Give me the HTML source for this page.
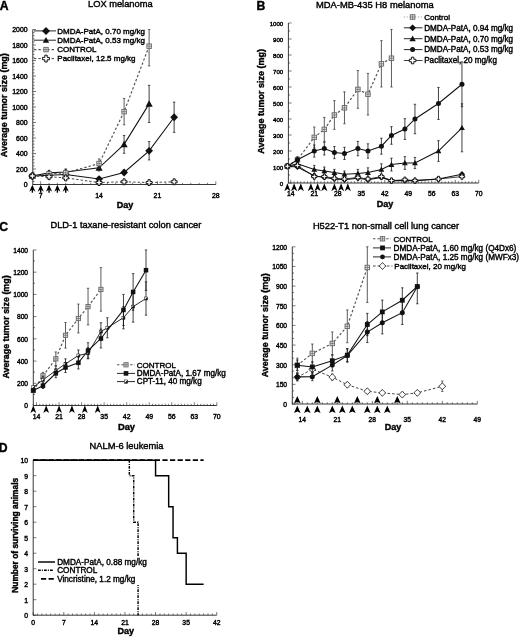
<!DOCTYPE html>
<html lang="en"><head><meta charset="utf-8"><title>DMDA-PatA antitumor activity in xenograft models</title>
<style>html,body{margin:0;padding:0;background:#fff;}body{width:520px;height:637px;overflow:hidden;}svg{display:block;font-family:'Liberation Sans', Arial, Helvetica, sans-serif;}text{stroke:#000;stroke-width:0.4px;}svg{filter:blur(0.3px);}</style>
</head><body>
<svg width="520" height="637" viewBox="0 0 520 637">
<rect width="520" height="637" fill="#fff"/>
<g id="panelA">
<text x="-0.2" y="9.6" font-size="12.2" font-weight="bold" text-anchor="start" fill="#000">A</text>
<text x="120.3" y="7.2" font-size="9.3" text-anchor="middle" fill="#000">LOX melanoma</text>
<line x1="32.8" y1="184.5" x2="215.84" y2="184.5" stroke="#222" stroke-width="0.9"/>
<line x1="32.8" y1="184.9" x2="32.8" y2="29.5" stroke="#222" stroke-width="0.9"/>
<line x1="40.7" y1="184.5" x2="40.7" y2="181.3" stroke="#222" stroke-width="0.6"/>
<line x1="49.04" y1="184.5" x2="49.04" y2="182.8" stroke="#222" stroke-width="0.6"/>
<line x1="57.38" y1="184.5" x2="57.38" y2="182.8" stroke="#222" stroke-width="0.6"/>
<line x1="65.72" y1="184.5" x2="65.72" y2="182.8" stroke="#222" stroke-width="0.6"/>
<line x1="74.06" y1="184.5" x2="74.06" y2="182.8" stroke="#222" stroke-width="0.6"/>
<line x1="82.4" y1="184.5" x2="82.4" y2="182.8" stroke="#222" stroke-width="0.6"/>
<line x1="90.74" y1="184.5" x2="90.74" y2="182.8" stroke="#222" stroke-width="0.6"/>
<line x1="99.08" y1="184.5" x2="99.08" y2="181.3" stroke="#222" stroke-width="0.6"/>
<line x1="107.42" y1="184.5" x2="107.42" y2="182.8" stroke="#222" stroke-width="0.6"/>
<line x1="115.76" y1="184.5" x2="115.76" y2="182.8" stroke="#222" stroke-width="0.6"/>
<line x1="124.1" y1="184.5" x2="124.1" y2="182.8" stroke="#222" stroke-width="0.6"/>
<line x1="132.44" y1="184.5" x2="132.44" y2="182.8" stroke="#222" stroke-width="0.6"/>
<line x1="140.78" y1="184.5" x2="140.78" y2="182.8" stroke="#222" stroke-width="0.6"/>
<line x1="149.12" y1="184.5" x2="149.12" y2="182.8" stroke="#222" stroke-width="0.6"/>
<line x1="157.46" y1="184.5" x2="157.46" y2="181.3" stroke="#222" stroke-width="0.6"/>
<line x1="165.8" y1="184.5" x2="165.8" y2="182.8" stroke="#222" stroke-width="0.6"/>
<line x1="174.14" y1="184.5" x2="174.14" y2="182.8" stroke="#222" stroke-width="0.6"/>
<line x1="182.48" y1="184.5" x2="182.48" y2="182.8" stroke="#222" stroke-width="0.6"/>
<line x1="190.82" y1="184.5" x2="190.82" y2="182.8" stroke="#222" stroke-width="0.6"/>
<line x1="199.16" y1="184.5" x2="199.16" y2="182.8" stroke="#222" stroke-width="0.6"/>
<line x1="207.5" y1="184.5" x2="207.5" y2="182.8" stroke="#222" stroke-width="0.6"/>
<line x1="215.84" y1="184.5" x2="215.84" y2="181.3" stroke="#222" stroke-width="0.6"/>
<line x1="32.8" y1="184.5" x2="36" y2="184.5" stroke="#222" stroke-width="0.6"/>
<line x1="32.8" y1="181.4" x2="34.5" y2="181.4" stroke="#222" stroke-width="0.6"/>
<line x1="32.8" y1="178.3" x2="34.5" y2="178.3" stroke="#222" stroke-width="0.6"/>
<line x1="32.8" y1="175.2" x2="34.5" y2="175.2" stroke="#222" stroke-width="0.6"/>
<line x1="32.8" y1="172.1" x2="34.5" y2="172.1" stroke="#222" stroke-width="0.6"/>
<line x1="32.8" y1="169" x2="36" y2="169" stroke="#222" stroke-width="0.6"/>
<line x1="32.8" y1="165.9" x2="34.5" y2="165.9" stroke="#222" stroke-width="0.6"/>
<line x1="32.8" y1="162.8" x2="34.5" y2="162.8" stroke="#222" stroke-width="0.6"/>
<line x1="32.8" y1="159.7" x2="34.5" y2="159.7" stroke="#222" stroke-width="0.6"/>
<line x1="32.8" y1="156.6" x2="34.5" y2="156.6" stroke="#222" stroke-width="0.6"/>
<line x1="32.8" y1="153.5" x2="36" y2="153.5" stroke="#222" stroke-width="0.6"/>
<line x1="32.8" y1="150.4" x2="34.5" y2="150.4" stroke="#222" stroke-width="0.6"/>
<line x1="32.8" y1="147.3" x2="34.5" y2="147.3" stroke="#222" stroke-width="0.6"/>
<line x1="32.8" y1="144.2" x2="34.5" y2="144.2" stroke="#222" stroke-width="0.6"/>
<line x1="32.8" y1="141.1" x2="34.5" y2="141.1" stroke="#222" stroke-width="0.6"/>
<line x1="32.8" y1="138" x2="36" y2="138" stroke="#222" stroke-width="0.6"/>
<line x1="32.8" y1="134.9" x2="34.5" y2="134.9" stroke="#222" stroke-width="0.6"/>
<line x1="32.8" y1="131.8" x2="34.5" y2="131.8" stroke="#222" stroke-width="0.6"/>
<line x1="32.8" y1="128.7" x2="34.5" y2="128.7" stroke="#222" stroke-width="0.6"/>
<line x1="32.8" y1="125.6" x2="34.5" y2="125.6" stroke="#222" stroke-width="0.6"/>
<line x1="32.8" y1="122.5" x2="36" y2="122.5" stroke="#222" stroke-width="0.6"/>
<line x1="32.8" y1="119.4" x2="34.5" y2="119.4" stroke="#222" stroke-width="0.6"/>
<line x1="32.8" y1="116.3" x2="34.5" y2="116.3" stroke="#222" stroke-width="0.6"/>
<line x1="32.8" y1="113.2" x2="34.5" y2="113.2" stroke="#222" stroke-width="0.6"/>
<line x1="32.8" y1="110.1" x2="34.5" y2="110.1" stroke="#222" stroke-width="0.6"/>
<line x1="32.8" y1="107" x2="36" y2="107" stroke="#222" stroke-width="0.6"/>
<line x1="32.8" y1="103.9" x2="34.5" y2="103.9" stroke="#222" stroke-width="0.6"/>
<line x1="32.8" y1="100.8" x2="34.5" y2="100.8" stroke="#222" stroke-width="0.6"/>
<line x1="32.8" y1="97.7" x2="34.5" y2="97.7" stroke="#222" stroke-width="0.6"/>
<line x1="32.8" y1="94.6" x2="34.5" y2="94.6" stroke="#222" stroke-width="0.6"/>
<line x1="32.8" y1="91.5" x2="36" y2="91.5" stroke="#222" stroke-width="0.6"/>
<line x1="32.8" y1="88.4" x2="34.5" y2="88.4" stroke="#222" stroke-width="0.6"/>
<line x1="32.8" y1="85.3" x2="34.5" y2="85.3" stroke="#222" stroke-width="0.6"/>
<line x1="32.8" y1="82.2" x2="34.5" y2="82.2" stroke="#222" stroke-width="0.6"/>
<line x1="32.8" y1="79.1" x2="34.5" y2="79.1" stroke="#222" stroke-width="0.6"/>
<line x1="32.8" y1="76" x2="36" y2="76" stroke="#222" stroke-width="0.6"/>
<line x1="32.8" y1="72.9" x2="34.5" y2="72.9" stroke="#222" stroke-width="0.6"/>
<line x1="32.8" y1="69.8" x2="34.5" y2="69.8" stroke="#222" stroke-width="0.6"/>
<line x1="32.8" y1="66.7" x2="34.5" y2="66.7" stroke="#222" stroke-width="0.6"/>
<line x1="32.8" y1="63.6" x2="34.5" y2="63.6" stroke="#222" stroke-width="0.6"/>
<line x1="32.8" y1="60.5" x2="36" y2="60.5" stroke="#222" stroke-width="0.6"/>
<line x1="32.8" y1="57.4" x2="34.5" y2="57.4" stroke="#222" stroke-width="0.6"/>
<line x1="32.8" y1="54.3" x2="34.5" y2="54.3" stroke="#222" stroke-width="0.6"/>
<line x1="32.8" y1="51.2" x2="34.5" y2="51.2" stroke="#222" stroke-width="0.6"/>
<line x1="32.8" y1="48.1" x2="34.5" y2="48.1" stroke="#222" stroke-width="0.6"/>
<line x1="32.8" y1="45" x2="36" y2="45" stroke="#222" stroke-width="0.6"/>
<line x1="32.8" y1="41.9" x2="34.5" y2="41.9" stroke="#222" stroke-width="0.6"/>
<line x1="32.8" y1="38.8" x2="34.5" y2="38.8" stroke="#222" stroke-width="0.6"/>
<line x1="32.8" y1="35.7" x2="34.5" y2="35.7" stroke="#222" stroke-width="0.6"/>
<line x1="32.8" y1="32.6" x2="34.5" y2="32.6" stroke="#222" stroke-width="0.6"/>
<line x1="32.8" y1="29.5" x2="36" y2="29.5" stroke="#222" stroke-width="0.6"/>
<text x="40.7" y="197.8" font-size="6.9" text-anchor="middle" fill="#000" class="tk">7</text>
<text x="99.08" y="197.8" font-size="6.9" text-anchor="middle" fill="#000" class="tk">14</text>
<text x="157.46" y="197.8" font-size="6.9" text-anchor="middle" fill="#000" class="tk">21</text>
<text x="215.84" y="197.8" font-size="6.9" text-anchor="middle" fill="#000" class="tk">28</text>
<text x="27.6" y="187.43" font-size="6.9" text-anchor="end" fill="#000" class="tk">0</text>
<text x="27.6" y="171.93" font-size="6.9" text-anchor="end" fill="#000" class="tk">200</text>
<text x="27.6" y="156.43" font-size="6.9" text-anchor="end" fill="#000" class="tk">400</text>
<text x="27.6" y="140.93" font-size="6.9" text-anchor="end" fill="#000" class="tk">600</text>
<text x="27.6" y="125.43" font-size="6.9" text-anchor="end" fill="#000" class="tk">800</text>
<text x="27.6" y="109.93" font-size="6.9" text-anchor="end" fill="#000" class="tk">1000</text>
<text x="27.6" y="94.43" font-size="6.9" text-anchor="end" fill="#000" class="tk">1200</text>
<text x="27.6" y="78.93" font-size="6.9" text-anchor="end" fill="#000" class="tk">1400</text>
<text x="27.6" y="63.43" font-size="6.9" text-anchor="end" fill="#000" class="tk">1600</text>
<text x="27.6" y="47.93" font-size="6.9" text-anchor="end" fill="#000" class="tk">1800</text>
<text x="27.6" y="32.43" font-size="6.9" text-anchor="end" fill="#000" class="tk">2000</text>
<text x="7" y="105.2" font-size="8.95" font-weight="bold" text-anchor="middle" fill="#000" transform="rotate(-90 7 105.2)">Average tumor size (mg)</text>
<text x="125" y="208.2" font-size="9.0" font-weight="bold" text-anchor="middle" fill="#000">Day</text>
<line x1="49.04" y1="173.26" x2="49.04" y2="177.14" stroke="#111" stroke-width="0.8"/>
<line x1="47.84" y1="173.26" x2="50.24" y2="173.26" stroke="#111" stroke-width="0.7200000000000001"/>
<line x1="47.84" y1="177.14" x2="50.24" y2="177.14" stroke="#111" stroke-width="0.7200000000000001"/>
<line x1="65.72" y1="172.1" x2="65.72" y2="176.75" stroke="#111" stroke-width="0.8"/>
<line x1="64.52" y1="172.1" x2="66.92" y2="172.1" stroke="#111" stroke-width="0.7200000000000001"/>
<line x1="64.52" y1="176.75" x2="66.92" y2="176.75" stroke="#111" stroke-width="0.7200000000000001"/>
<line x1="99.08" y1="176.75" x2="99.08" y2="181.4" stroke="#111" stroke-width="0.8"/>
<line x1="97.88" y1="176.75" x2="100.28" y2="176.75" stroke="#111" stroke-width="0.7200000000000001"/>
<line x1="97.88" y1="181.4" x2="100.28" y2="181.4" stroke="#111" stroke-width="0.7200000000000001"/>
<line x1="124.1" y1="170.16" x2="124.1" y2="174.81" stroke="#111" stroke-width="0.8"/>
<line x1="122.9" y1="170.16" x2="125.3" y2="170.16" stroke="#111" stroke-width="0.7200000000000001"/>
<line x1="122.9" y1="174.81" x2="125.3" y2="174.81" stroke="#111" stroke-width="0.7200000000000001"/>
<line x1="149.12" y1="141.64" x2="149.12" y2="159.93" stroke="#111" stroke-width="0.8"/>
<line x1="147.92" y1="141.64" x2="150.32" y2="141.64" stroke="#111" stroke-width="0.7200000000000001"/>
<line x1="147.92" y1="159.93" x2="150.32" y2="159.93" stroke="#111" stroke-width="0.7200000000000001"/>
<line x1="174.14" y1="102.12" x2="174.14" y2="132.34" stroke="#111" stroke-width="0.8"/>
<line x1="172.94" y1="102.12" x2="175.34" y2="102.12" stroke="#111" stroke-width="0.7200000000000001"/>
<line x1="172.94" y1="132.34" x2="175.34" y2="132.34" stroke="#111" stroke-width="0.7200000000000001"/>
<polyline points="32.36,175.97 49.04,175.2 65.72,174.43 99.08,179.07 124.1,172.49 149.12,150.79 174.14,117.23" fill="none" stroke="#111" stroke-width="1.05" stroke-linejoin="miter"/>
<polygon points="32.36,172.07 36.26,175.97 32.36,179.88 28.46,175.97" fill="#111"/>
<polygon points="49.04,171.3 52.94,175.2 49.04,179.1 45.14,175.2" fill="#111"/>
<polygon points="65.72,170.53 69.62,174.43 65.72,178.33 61.82,174.43" fill="#111"/>
<polygon points="99.08,175.17 102.98,179.07 99.08,182.97 95.18,179.07" fill="#111"/>
<polygon points="124.1,168.59 128,172.49 124.1,176.39 120.2,172.49" fill="#111"/>
<polygon points="149.12,146.89 153.02,150.79 149.12,154.69 145.22,150.79" fill="#111"/>
<polygon points="174.14,113.33 178.04,117.23 174.14,121.13 170.24,117.23" fill="#111"/>
<line x1="49.04" y1="170.55" x2="49.04" y2="175.2" stroke="#111" stroke-width="0.8"/>
<line x1="47.84" y1="170.55" x2="50.24" y2="170.55" stroke="#111" stroke-width="0.7200000000000001"/>
<line x1="47.84" y1="175.2" x2="50.24" y2="175.2" stroke="#111" stroke-width="0.7200000000000001"/>
<line x1="65.72" y1="169" x2="65.72" y2="175.2" stroke="#111" stroke-width="0.8"/>
<line x1="64.52" y1="169" x2="66.92" y2="169" stroke="#111" stroke-width="0.7200000000000001"/>
<line x1="64.52" y1="175.2" x2="66.92" y2="175.2" stroke="#111" stroke-width="0.7200000000000001"/>
<line x1="99.08" y1="164.74" x2="99.08" y2="170.94" stroke="#111" stroke-width="0.8"/>
<line x1="97.88" y1="164.74" x2="100.28" y2="164.74" stroke="#111" stroke-width="0.7200000000000001"/>
<line x1="97.88" y1="170.94" x2="100.28" y2="170.94" stroke="#111" stroke-width="0.7200000000000001"/>
<line x1="124.1" y1="135.44" x2="124.1" y2="153.27" stroke="#111" stroke-width="0.8"/>
<line x1="122.9" y1="135.44" x2="125.3" y2="135.44" stroke="#111" stroke-width="0.7200000000000001"/>
<line x1="122.9" y1="153.27" x2="125.3" y2="153.27" stroke="#111" stroke-width="0.7200000000000001"/>
<line x1="149.12" y1="85.3" x2="149.12" y2="122.5" stroke="#111" stroke-width="0.8"/>
<line x1="147.92" y1="85.3" x2="150.32" y2="85.3" stroke="#111" stroke-width="0.7200000000000001"/>
<line x1="147.92" y1="122.5" x2="150.32" y2="122.5" stroke="#111" stroke-width="0.7200000000000001"/>
<polyline points="32.36,175.97 49.04,172.88 65.72,172.1 99.08,167.84 124.1,144.35 149.12,103.9" fill="none" stroke="#111" stroke-width="1.05" stroke-linejoin="miter"/>
<polygon points="32.36,172.38 35.96,178.85 28.76,178.85" fill="#111"/>
<polygon points="49.04,169.28 52.64,175.75 45.44,175.75" fill="#111"/>
<polygon points="65.72,168.5 69.32,174.98 62.12,174.98" fill="#111"/>
<polygon points="99.08,164.24 102.68,170.72 95.48,170.72" fill="#111"/>
<polygon points="124.1,140.75 127.7,147.23 120.5,147.23" fill="#111"/>
<polygon points="149.12,100.3 152.72,106.78 145.52,106.78" fill="#111"/>
<line x1="49.04" y1="171.32" x2="49.04" y2="175.97" stroke="#333" stroke-width="0.8"/>
<line x1="47.84" y1="171.32" x2="50.24" y2="171.32" stroke="#333" stroke-width="0.7200000000000001"/>
<line x1="47.84" y1="175.97" x2="50.24" y2="175.97" stroke="#333" stroke-width="0.7200000000000001"/>
<line x1="65.72" y1="169.39" x2="65.72" y2="176.36" stroke="#333" stroke-width="0.8"/>
<line x1="64.52" y1="169.39" x2="66.92" y2="169.39" stroke="#333" stroke-width="0.7200000000000001"/>
<line x1="64.52" y1="176.36" x2="66.92" y2="176.36" stroke="#333" stroke-width="0.7200000000000001"/>
<line x1="99.08" y1="158.93" x2="99.08" y2="168.22" stroke="#333" stroke-width="0.8"/>
<line x1="97.88" y1="158.93" x2="100.28" y2="158.93" stroke="#333" stroke-width="0.7200000000000001"/>
<line x1="97.88" y1="168.22" x2="100.28" y2="168.22" stroke="#333" stroke-width="0.7200000000000001"/>
<line x1="124.1" y1="98.47" x2="124.1" y2="124.83" stroke="#333" stroke-width="0.8"/>
<line x1="122.9" y1="98.47" x2="125.3" y2="98.47" stroke="#333" stroke-width="0.7200000000000001"/>
<line x1="122.9" y1="124.83" x2="125.3" y2="124.83" stroke="#333" stroke-width="0.7200000000000001"/>
<line x1="149.12" y1="29.5" x2="149.12" y2="65.92" stroke="#333" stroke-width="0.8"/>
<line x1="147.92" y1="29.5" x2="150.32" y2="29.5" stroke="#333" stroke-width="0.7200000000000001"/>
<line x1="147.92" y1="65.92" x2="150.32" y2="65.92" stroke="#333" stroke-width="0.7200000000000001"/>
<polyline points="32.36,175.97 49.04,173.65 65.72,172.88 99.08,163.57 124.1,111.65 149.12,46.16" fill="none" stroke="#555" stroke-width="1.2" stroke-dasharray="2.4 2" stroke-linejoin="miter"/>
<rect x="30.11" y="173.72" width="4.5" height="4.5" fill="#e4e4e4" stroke="#666" stroke-width="0.9"/>
<line x1="30.11" y1="175.97" x2="34.61" y2="175.97" stroke="#666" stroke-width="0.7"/>
<line x1="32.36" y1="173.72" x2="32.36" y2="178.22" stroke="#666" stroke-width="0.7"/>
<rect x="46.79" y="171.4" width="4.5" height="4.5" fill="#e4e4e4" stroke="#666" stroke-width="0.9"/>
<line x1="46.79" y1="173.65" x2="51.29" y2="173.65" stroke="#666" stroke-width="0.7"/>
<line x1="49.04" y1="171.4" x2="49.04" y2="175.9" stroke="#666" stroke-width="0.7"/>
<rect x="63.47" y="170.62" width="4.5" height="4.5" fill="#e4e4e4" stroke="#666" stroke-width="0.9"/>
<line x1="63.47" y1="172.88" x2="67.97" y2="172.88" stroke="#666" stroke-width="0.7"/>
<line x1="65.72" y1="170.62" x2="65.72" y2="175.12" stroke="#666" stroke-width="0.7"/>
<rect x="96.83" y="161.32" width="4.5" height="4.5" fill="#e4e4e4" stroke="#666" stroke-width="0.9"/>
<line x1="96.83" y1="163.57" x2="101.33" y2="163.57" stroke="#666" stroke-width="0.7"/>
<line x1="99.08" y1="161.32" x2="99.08" y2="165.82" stroke="#666" stroke-width="0.7"/>
<rect x="121.85" y="109.4" width="4.5" height="4.5" fill="#e4e4e4" stroke="#666" stroke-width="0.9"/>
<line x1="121.85" y1="111.65" x2="126.35" y2="111.65" stroke="#666" stroke-width="0.7"/>
<line x1="124.1" y1="109.4" x2="124.1" y2="113.9" stroke="#666" stroke-width="0.7"/>
<rect x="146.87" y="43.91" width="4.5" height="4.5" fill="#e4e4e4" stroke="#666" stroke-width="0.9"/>
<line x1="146.87" y1="46.16" x2="151.37" y2="46.16" stroke="#666" stroke-width="0.7"/>
<line x1="149.12" y1="43.91" x2="149.12" y2="48.41" stroke="#666" stroke-width="0.7"/>
<line x1="49.04" y1="174.81" x2="49.04" y2="178.69" stroke="#333" stroke-width="0.8"/>
<line x1="47.84" y1="174.81" x2="50.24" y2="174.81" stroke="#333" stroke-width="0.7200000000000001"/>
<line x1="47.84" y1="178.69" x2="50.24" y2="178.69" stroke="#333" stroke-width="0.7200000000000001"/>
<line x1="65.72" y1="175.59" x2="65.72" y2="180.24" stroke="#333" stroke-width="0.8"/>
<line x1="64.52" y1="175.59" x2="66.92" y2="175.59" stroke="#333" stroke-width="0.7200000000000001"/>
<line x1="64.52" y1="180.24" x2="66.92" y2="180.24" stroke="#333" stroke-width="0.7200000000000001"/>
<line x1="99.08" y1="181.4" x2="99.08" y2="183.72" stroke="#333" stroke-width="0.8"/>
<line x1="97.88" y1="181.4" x2="100.28" y2="181.4" stroke="#333" stroke-width="0.7200000000000001"/>
<line x1="97.88" y1="183.72" x2="100.28" y2="183.72" stroke="#333" stroke-width="0.7200000000000001"/>
<line x1="124.1" y1="181.01" x2="124.1" y2="182.56" stroke="#333" stroke-width="0.8"/>
<line x1="122.9" y1="181.01" x2="125.3" y2="181.01" stroke="#333" stroke-width="0.7200000000000001"/>
<line x1="122.9" y1="182.56" x2="125.3" y2="182.56" stroke="#333" stroke-width="0.7200000000000001"/>
<line x1="149.12" y1="181.79" x2="149.12" y2="183.34" stroke="#333" stroke-width="0.8"/>
<line x1="147.92" y1="181.79" x2="150.32" y2="181.79" stroke="#333" stroke-width="0.7200000000000001"/>
<line x1="147.92" y1="183.34" x2="150.32" y2="183.34" stroke="#333" stroke-width="0.7200000000000001"/>
<line x1="174.14" y1="181.01" x2="174.14" y2="182.56" stroke="#333" stroke-width="0.8"/>
<line x1="172.94" y1="181.01" x2="175.34" y2="181.01" stroke="#333" stroke-width="0.7200000000000001"/>
<line x1="172.94" y1="182.56" x2="175.34" y2="182.56" stroke="#333" stroke-width="0.7200000000000001"/>
<polyline points="32.36,175.97 49.04,176.75 65.72,177.91 99.08,182.56 124.1,181.79 149.12,182.56 174.14,181.79" fill="none" stroke="#333" stroke-width="0.9" stroke-dasharray="2.4 2" stroke-linejoin="miter"/>
<polygon points="31.31,173.03 33.41,173.03 33.41,174.92 35.31,174.92 35.31,177.03 33.41,177.03 33.41,178.92 31.31,178.92 31.31,177.03 29.41,177.03 29.41,174.92 31.31,174.92" fill="#fff" stroke="#111" stroke-width="1.0"/>
<polygon points="47.99,173.8 50.09,173.8 50.09,175.7 51.99,175.7 51.99,177.8 50.09,177.8 50.09,179.7 47.99,179.7 47.99,177.8 46.09,177.8 46.09,175.7 47.99,175.7" fill="#fff" stroke="#111" stroke-width="1.0"/>
<polygon points="64.67,174.96 66.77,174.96 66.77,176.86 68.67,176.86 68.67,178.96 66.77,178.96 66.77,180.86 64.67,180.86 64.67,178.96 62.77,178.96 62.77,176.86 64.67,176.86" fill="#fff" stroke="#111" stroke-width="1.0"/>
<polygon points="98.03,179.61 100.13,179.61 100.13,181.51 102.03,181.51 102.03,183.61 100.13,183.61 100.13,185.51 98.03,185.51 98.03,183.61 96.13,183.61 96.13,181.51 98.03,181.51" fill="#fff" stroke="#111" stroke-width="1.0"/>
<polygon points="123.05,178.84 125.15,178.84 125.15,180.74 127.05,180.74 127.05,182.84 125.15,182.84 125.15,184.74 123.05,184.74 123.05,182.84 121.15,182.84 121.15,180.74 123.05,180.74" fill="#fff" stroke="#111" stroke-width="1.0"/>
<polygon points="148.07,179.61 150.17,179.61 150.17,181.51 152.07,181.51 152.07,183.61 150.17,183.61 150.17,185.51 148.07,185.51 148.07,183.61 146.17,183.61 146.17,181.51 148.07,181.51" fill="#fff" stroke="#111" stroke-width="1.0"/>
<polygon points="173.09,178.84 175.19,178.84 175.19,180.74 177.09,180.74 177.09,182.84 175.19,182.84 175.19,184.74 173.09,184.74 173.09,182.84 171.19,182.84 171.19,180.74 173.09,180.74" fill="#fff" stroke="#111" stroke-width="1.0"/>
<polygon points="31.31,173.03 33.41,173.03 33.41,174.92 35.31,174.92 35.31,177.03 33.41,177.03 33.41,178.92 31.31,178.92 31.31,177.03 29.41,177.03 29.41,174.92 31.31,174.92" fill="#fff" stroke="#111" stroke-width="1.0"/>
<polygon points="32.36,184.8 35.46,191.8 32.36,189.6 29.26,191.8" fill="#000"/>
<line x1="32.36" y1="186.8" x2="32.36" y2="192.7" stroke="#000" stroke-width="1.4"/>
<polygon points="40.7,184.8 43.8,191.8 40.7,189.6 37.6,191.8" fill="#000"/>
<line x1="40.7" y1="186.8" x2="40.7" y2="192.7" stroke="#000" stroke-width="1.4"/>
<polygon points="49.04,184.8 52.14,191.8 49.04,189.6 45.94,191.8" fill="#000"/>
<line x1="49.04" y1="186.8" x2="49.04" y2="192.7" stroke="#000" stroke-width="1.4"/>
<polygon points="57.38,184.8 60.48,191.8 57.38,189.6 54.28,191.8" fill="#000"/>
<line x1="57.38" y1="186.8" x2="57.38" y2="192.7" stroke="#000" stroke-width="1.4"/>
<polygon points="65.72,184.8 68.82,191.8 65.72,189.6 62.62,191.8" fill="#000"/>
<line x1="65.72" y1="186.8" x2="65.72" y2="192.7" stroke="#000" stroke-width="1.4"/>
<line x1="34" y1="30.9" x2="56" y2="30.9" stroke="#111" stroke-width="0.9"/>
<polygon points="46,26.9 50,30.9 46,34.9 42,30.9" fill="#111"/>
<text x="57.3" y="33.7" font-size="8" text-anchor="start" fill="#000">DMDA-PatA, 0.70 mg/kg</text>
<line x1="34" y1="40.2" x2="56" y2="40.2" stroke="#111" stroke-width="0.9"/>
<polygon points="46,37 49.2,42.76 42.8,42.76" fill="#111"/>
<text x="57.3" y="43" font-size="8" text-anchor="start" fill="#000">DMDA-PatA, 0.53 mg/kg</text>
<line x1="34" y1="49.6" x2="56" y2="49.6" stroke="#555" stroke-width="1.1" stroke-dasharray="2.4 2"/>
<rect x="43.8" y="47.4" width="4.4" height="4.4" fill="#e4e4e4" stroke="#666" stroke-width="0.9"/>
<line x1="43.8" y1="49.6" x2="48.2" y2="49.6" stroke="#666" stroke-width="0.7"/>
<line x1="46" y1="47.4" x2="46" y2="51.8" stroke="#666" stroke-width="0.7"/>
<text x="57.3" y="52.4" font-size="8" text-anchor="start" fill="#000">CONTROL</text>
<line x1="34" y1="58.6" x2="56" y2="58.6" stroke="#333" stroke-width="0.9" stroke-dasharray="2.4 2"/>
<polygon points="44.8,55.2 47.2,55.2 47.2,57.4 49.4,57.4 49.4,59.8 47.2,59.8 47.2,62 44.8,62 44.8,59.8 42.6,59.8 42.6,57.4 44.8,57.4" fill="#fff" stroke="#111" stroke-width="1.0"/>
<text x="57.3" y="61.4" font-size="8" text-anchor="start" fill="#000">Paclitaxel, 12.5 mg/kg</text>
</g>
<g id="panelB">
<text x="256.6" y="9.7" font-size="12.2" font-weight="bold" text-anchor="start" fill="#000">B</text>
<text x="374.8" y="7.6" font-size="9.4" text-anchor="middle" fill="#000">MDA-MB-435 H8 melanoma</text>
<line x1="288.4" y1="183" x2="478.74" y2="183" stroke="#222" stroke-width="0.9"/>
<line x1="288.4" y1="183.4" x2="288.4" y2="23" stroke="#222" stroke-width="0.9"/>
<line x1="290.75" y1="183" x2="290.75" y2="179.8" stroke="#222" stroke-width="0.6"/>
<line x1="294.11" y1="183" x2="294.11" y2="181.3" stroke="#222" stroke-width="0.6"/>
<line x1="297.46" y1="183" x2="297.46" y2="181.3" stroke="#222" stroke-width="0.6"/>
<line x1="300.82" y1="183" x2="300.82" y2="181.3" stroke="#222" stroke-width="0.6"/>
<line x1="304.18" y1="183" x2="304.18" y2="181.3" stroke="#222" stroke-width="0.6"/>
<line x1="307.53" y1="183" x2="307.53" y2="181.3" stroke="#222" stroke-width="0.6"/>
<line x1="310.89" y1="183" x2="310.89" y2="181.3" stroke="#222" stroke-width="0.6"/>
<line x1="314.25" y1="183" x2="314.25" y2="179.8" stroke="#222" stroke-width="0.6"/>
<line x1="317.61" y1="183" x2="317.61" y2="181.3" stroke="#222" stroke-width="0.6"/>
<line x1="320.96" y1="183" x2="320.96" y2="181.3" stroke="#222" stroke-width="0.6"/>
<line x1="324.32" y1="183" x2="324.32" y2="181.3" stroke="#222" stroke-width="0.6"/>
<line x1="327.68" y1="183" x2="327.68" y2="181.3" stroke="#222" stroke-width="0.6"/>
<line x1="331.03" y1="183" x2="331.03" y2="181.3" stroke="#222" stroke-width="0.6"/>
<line x1="334.39" y1="183" x2="334.39" y2="181.3" stroke="#222" stroke-width="0.6"/>
<line x1="337.75" y1="183" x2="337.75" y2="179.8" stroke="#222" stroke-width="0.6"/>
<line x1="341.1" y1="183" x2="341.1" y2="181.3" stroke="#222" stroke-width="0.6"/>
<line x1="344.46" y1="183" x2="344.46" y2="181.3" stroke="#222" stroke-width="0.6"/>
<line x1="347.82" y1="183" x2="347.82" y2="181.3" stroke="#222" stroke-width="0.6"/>
<line x1="351.18" y1="183" x2="351.18" y2="181.3" stroke="#222" stroke-width="0.6"/>
<line x1="354.53" y1="183" x2="354.53" y2="181.3" stroke="#222" stroke-width="0.6"/>
<line x1="357.89" y1="183" x2="357.89" y2="181.3" stroke="#222" stroke-width="0.6"/>
<line x1="361.25" y1="183" x2="361.25" y2="179.8" stroke="#222" stroke-width="0.6"/>
<line x1="364.6" y1="183" x2="364.6" y2="181.3" stroke="#222" stroke-width="0.6"/>
<line x1="367.96" y1="183" x2="367.96" y2="181.3" stroke="#222" stroke-width="0.6"/>
<line x1="371.32" y1="183" x2="371.32" y2="181.3" stroke="#222" stroke-width="0.6"/>
<line x1="374.67" y1="183" x2="374.67" y2="181.3" stroke="#222" stroke-width="0.6"/>
<line x1="378.03" y1="183" x2="378.03" y2="181.3" stroke="#222" stroke-width="0.6"/>
<line x1="381.39" y1="183" x2="381.39" y2="181.3" stroke="#222" stroke-width="0.6"/>
<line x1="384.75" y1="183" x2="384.75" y2="179.8" stroke="#222" stroke-width="0.6"/>
<line x1="388.1" y1="183" x2="388.1" y2="181.3" stroke="#222" stroke-width="0.6"/>
<line x1="391.46" y1="183" x2="391.46" y2="181.3" stroke="#222" stroke-width="0.6"/>
<line x1="394.82" y1="183" x2="394.82" y2="181.3" stroke="#222" stroke-width="0.6"/>
<line x1="398.17" y1="183" x2="398.17" y2="181.3" stroke="#222" stroke-width="0.6"/>
<line x1="401.53" y1="183" x2="401.53" y2="181.3" stroke="#222" stroke-width="0.6"/>
<line x1="404.89" y1="183" x2="404.89" y2="181.3" stroke="#222" stroke-width="0.6"/>
<line x1="408.24" y1="183" x2="408.24" y2="179.8" stroke="#222" stroke-width="0.6"/>
<line x1="411.6" y1="183" x2="411.6" y2="181.3" stroke="#222" stroke-width="0.6"/>
<line x1="414.96" y1="183" x2="414.96" y2="181.3" stroke="#222" stroke-width="0.6"/>
<line x1="418.32" y1="183" x2="418.32" y2="181.3" stroke="#222" stroke-width="0.6"/>
<line x1="421.67" y1="183" x2="421.67" y2="181.3" stroke="#222" stroke-width="0.6"/>
<line x1="425.03" y1="183" x2="425.03" y2="181.3" stroke="#222" stroke-width="0.6"/>
<line x1="428.39" y1="183" x2="428.39" y2="181.3" stroke="#222" stroke-width="0.6"/>
<line x1="431.74" y1="183" x2="431.74" y2="179.8" stroke="#222" stroke-width="0.6"/>
<line x1="435.1" y1="183" x2="435.1" y2="181.3" stroke="#222" stroke-width="0.6"/>
<line x1="438.46" y1="183" x2="438.46" y2="181.3" stroke="#222" stroke-width="0.6"/>
<line x1="441.81" y1="183" x2="441.81" y2="181.3" stroke="#222" stroke-width="0.6"/>
<line x1="445.17" y1="183" x2="445.17" y2="181.3" stroke="#222" stroke-width="0.6"/>
<line x1="448.53" y1="183" x2="448.53" y2="181.3" stroke="#222" stroke-width="0.6"/>
<line x1="451.89" y1="183" x2="451.89" y2="181.3" stroke="#222" stroke-width="0.6"/>
<line x1="455.24" y1="183" x2="455.24" y2="179.8" stroke="#222" stroke-width="0.6"/>
<line x1="458.6" y1="183" x2="458.6" y2="181.3" stroke="#222" stroke-width="0.6"/>
<line x1="461.96" y1="183" x2="461.96" y2="181.3" stroke="#222" stroke-width="0.6"/>
<line x1="465.31" y1="183" x2="465.31" y2="181.3" stroke="#222" stroke-width="0.6"/>
<line x1="468.67" y1="183" x2="468.67" y2="181.3" stroke="#222" stroke-width="0.6"/>
<line x1="472.03" y1="183" x2="472.03" y2="181.3" stroke="#222" stroke-width="0.6"/>
<line x1="475.38" y1="183" x2="475.38" y2="181.3" stroke="#222" stroke-width="0.6"/>
<line x1="478.74" y1="183" x2="478.74" y2="179.8" stroke="#222" stroke-width="0.6"/>
<line x1="288.4" y1="183" x2="291.6" y2="183" stroke="#222" stroke-width="0.6"/>
<line x1="288.4" y1="175" x2="290.1" y2="175" stroke="#222" stroke-width="0.6"/>
<line x1="288.4" y1="167" x2="291.6" y2="167" stroke="#222" stroke-width="0.6"/>
<line x1="288.4" y1="159" x2="290.1" y2="159" stroke="#222" stroke-width="0.6"/>
<line x1="288.4" y1="151" x2="291.6" y2="151" stroke="#222" stroke-width="0.6"/>
<line x1="288.4" y1="143" x2="290.1" y2="143" stroke="#222" stroke-width="0.6"/>
<line x1="288.4" y1="135" x2="291.6" y2="135" stroke="#222" stroke-width="0.6"/>
<line x1="288.4" y1="127" x2="290.1" y2="127" stroke="#222" stroke-width="0.6"/>
<line x1="288.4" y1="119" x2="291.6" y2="119" stroke="#222" stroke-width="0.6"/>
<line x1="288.4" y1="111" x2="290.1" y2="111" stroke="#222" stroke-width="0.6"/>
<line x1="288.4" y1="103" x2="291.6" y2="103" stroke="#222" stroke-width="0.6"/>
<line x1="288.4" y1="95" x2="290.1" y2="95" stroke="#222" stroke-width="0.6"/>
<line x1="288.4" y1="87" x2="291.6" y2="87" stroke="#222" stroke-width="0.6"/>
<line x1="288.4" y1="79" x2="290.1" y2="79" stroke="#222" stroke-width="0.6"/>
<line x1="288.4" y1="71" x2="291.6" y2="71" stroke="#222" stroke-width="0.6"/>
<line x1="288.4" y1="63" x2="290.1" y2="63" stroke="#222" stroke-width="0.6"/>
<line x1="288.4" y1="55" x2="291.6" y2="55" stroke="#222" stroke-width="0.6"/>
<line x1="288.4" y1="47" x2="290.1" y2="47" stroke="#222" stroke-width="0.6"/>
<line x1="288.4" y1="39" x2="291.6" y2="39" stroke="#222" stroke-width="0.6"/>
<line x1="288.4" y1="31" x2="290.1" y2="31" stroke="#222" stroke-width="0.6"/>
<line x1="288.4" y1="23" x2="291.6" y2="23" stroke="#222" stroke-width="0.6"/>
<text x="290.75" y="195.6" font-size="6.8" text-anchor="middle" fill="#000" class="tk">14</text>
<text x="314.25" y="195.6" font-size="6.8" text-anchor="middle" fill="#000" class="tk">21</text>
<text x="337.75" y="195.6" font-size="6.8" text-anchor="middle" fill="#000" class="tk">28</text>
<text x="361.25" y="195.6" font-size="6.8" text-anchor="middle" fill="#000" class="tk">35</text>
<text x="384.75" y="195.6" font-size="6.8" text-anchor="middle" fill="#000" class="tk">42</text>
<text x="408.24" y="195.6" font-size="6.8" text-anchor="middle" fill="#000" class="tk">49</text>
<text x="431.74" y="195.6" font-size="6.8" text-anchor="middle" fill="#000" class="tk">56</text>
<text x="455.24" y="195.6" font-size="6.8" text-anchor="middle" fill="#000" class="tk">63</text>
<text x="478.74" y="195.6" font-size="6.8" text-anchor="middle" fill="#000" class="tk">70</text>
<text x="283.2" y="185.65" font-size="6.1" text-anchor="end" fill="#000" class="tk">0</text>
<text x="283.2" y="169.65" font-size="6.1" text-anchor="end" fill="#000" class="tk">100</text>
<text x="283.2" y="153.65" font-size="6.1" text-anchor="end" fill="#000" class="tk">200</text>
<text x="283.2" y="137.65" font-size="6.1" text-anchor="end" fill="#000" class="tk">300</text>
<text x="283.2" y="121.65" font-size="6.1" text-anchor="end" fill="#000" class="tk">400</text>
<text x="283.2" y="105.65" font-size="6.1" text-anchor="end" fill="#000" class="tk">500</text>
<text x="283.2" y="89.65" font-size="6.1" text-anchor="end" fill="#000" class="tk">600</text>
<text x="283.2" y="73.65" font-size="6.1" text-anchor="end" fill="#000" class="tk">700</text>
<text x="283.2" y="57.65" font-size="6.1" text-anchor="end" fill="#000" class="tk">800</text>
<text x="283.2" y="41.65" font-size="6.1" text-anchor="end" fill="#000" class="tk">900</text>
<text x="283.2" y="25.65" font-size="6.1" text-anchor="end" fill="#000" class="tk">1000</text>
<text x="264.2" y="101.4" font-size="9.0" font-weight="bold" text-anchor="middle" fill="#000" transform="rotate(-90 264.2 101.4)">Average tumor size (mg)</text>
<text x="385" y="206.8" font-size="9" font-weight="bold" text-anchor="middle" fill="#000">Day</text>
<line x1="314.25" y1="127" x2="314.25" y2="147.8" stroke="#333" stroke-width="0.8"/>
<line x1="313.05" y1="127" x2="315.45" y2="127" stroke="#333" stroke-width="0.7200000000000001"/>
<line x1="313.05" y1="147.8" x2="315.45" y2="147.8" stroke="#333" stroke-width="0.7200000000000001"/>
<line x1="324.32" y1="117.4" x2="324.32" y2="141.4" stroke="#333" stroke-width="0.8"/>
<line x1="323.12" y1="117.4" x2="325.52" y2="117.4" stroke="#333" stroke-width="0.7200000000000001"/>
<line x1="323.12" y1="141.4" x2="325.52" y2="141.4" stroke="#333" stroke-width="0.7200000000000001"/>
<line x1="334.39" y1="100.6" x2="334.39" y2="129.4" stroke="#333" stroke-width="0.8"/>
<line x1="333.19" y1="100.6" x2="335.59" y2="100.6" stroke="#333" stroke-width="0.7200000000000001"/>
<line x1="333.19" y1="129.4" x2="335.59" y2="129.4" stroke="#333" stroke-width="0.7200000000000001"/>
<line x1="344.46" y1="91.8" x2="344.46" y2="123.8" stroke="#333" stroke-width="0.8"/>
<line x1="343.26" y1="91.8" x2="345.66" y2="91.8" stroke="#333" stroke-width="0.7200000000000001"/>
<line x1="343.26" y1="123.8" x2="345.66" y2="123.8" stroke="#333" stroke-width="0.7200000000000001"/>
<line x1="357.89" y1="70.52" x2="357.89" y2="108.28" stroke="#333" stroke-width="0.8"/>
<line x1="356.69" y1="70.52" x2="359.09" y2="70.52" stroke="#333" stroke-width="0.7200000000000001"/>
<line x1="356.69" y1="108.28" x2="359.09" y2="108.28" stroke="#333" stroke-width="0.7200000000000001"/>
<line x1="367.96" y1="73.4" x2="367.96" y2="115" stroke="#333" stroke-width="0.8"/>
<line x1="366.76" y1="73.4" x2="369.16" y2="73.4" stroke="#333" stroke-width="0.7200000000000001"/>
<line x1="366.76" y1="115" x2="369.16" y2="115" stroke="#333" stroke-width="0.7200000000000001"/>
<line x1="381.39" y1="40.6" x2="381.39" y2="87" stroke="#333" stroke-width="0.8"/>
<line x1="380.19" y1="40.6" x2="382.59" y2="40.6" stroke="#333" stroke-width="0.7200000000000001"/>
<line x1="380.19" y1="87" x2="382.59" y2="87" stroke="#333" stroke-width="0.7200000000000001"/>
<line x1="391.46" y1="29.4" x2="391.46" y2="87" stroke="#333" stroke-width="0.8"/>
<line x1="390.26" y1="29.4" x2="392.66" y2="29.4" stroke="#333" stroke-width="0.7200000000000001"/>
<line x1="390.26" y1="87" x2="392.66" y2="87" stroke="#333" stroke-width="0.7200000000000001"/>
<polyline points="287.39,166.2 297.46,159.8 314.25,137.4 324.32,129.4 334.39,115 344.46,107.8 357.89,89.4 367.96,94.2 381.39,63.8 391.46,58.2" fill="none" stroke="#555" stroke-width="1.2" stroke-dasharray="2.4 2" stroke-linejoin="miter"/>
<rect x="285.14" y="163.95" width="4.5" height="4.5" fill="#e4e4e4" stroke="#666" stroke-width="0.9"/>
<line x1="285.14" y1="166.2" x2="289.64" y2="166.2" stroke="#666" stroke-width="0.7"/>
<line x1="287.39" y1="163.95" x2="287.39" y2="168.45" stroke="#666" stroke-width="0.7"/>
<rect x="295.21" y="157.55" width="4.5" height="4.5" fill="#e4e4e4" stroke="#666" stroke-width="0.9"/>
<line x1="295.21" y1="159.8" x2="299.71" y2="159.8" stroke="#666" stroke-width="0.7"/>
<line x1="297.46" y1="157.55" x2="297.46" y2="162.05" stroke="#666" stroke-width="0.7"/>
<rect x="312" y="135.15" width="4.5" height="4.5" fill="#e4e4e4" stroke="#666" stroke-width="0.9"/>
<line x1="312" y1="137.4" x2="316.5" y2="137.4" stroke="#666" stroke-width="0.7"/>
<line x1="314.25" y1="135.15" x2="314.25" y2="139.65" stroke="#666" stroke-width="0.7"/>
<rect x="322.07" y="127.15" width="4.5" height="4.5" fill="#e4e4e4" stroke="#666" stroke-width="0.9"/>
<line x1="322.07" y1="129.4" x2="326.57" y2="129.4" stroke="#666" stroke-width="0.7"/>
<line x1="324.32" y1="127.15" x2="324.32" y2="131.65" stroke="#666" stroke-width="0.7"/>
<rect x="332.14" y="112.75" width="4.5" height="4.5" fill="#e4e4e4" stroke="#666" stroke-width="0.9"/>
<line x1="332.14" y1="115" x2="336.64" y2="115" stroke="#666" stroke-width="0.7"/>
<line x1="334.39" y1="112.75" x2="334.39" y2="117.25" stroke="#666" stroke-width="0.7"/>
<rect x="342.21" y="105.55" width="4.5" height="4.5" fill="#e4e4e4" stroke="#666" stroke-width="0.9"/>
<line x1="342.21" y1="107.8" x2="346.71" y2="107.8" stroke="#666" stroke-width="0.7"/>
<line x1="344.46" y1="105.55" x2="344.46" y2="110.05" stroke="#666" stroke-width="0.7"/>
<rect x="355.64" y="87.15" width="4.5" height="4.5" fill="#e4e4e4" stroke="#666" stroke-width="0.9"/>
<line x1="355.64" y1="89.4" x2="360.14" y2="89.4" stroke="#666" stroke-width="0.7"/>
<line x1="357.89" y1="87.15" x2="357.89" y2="91.65" stroke="#666" stroke-width="0.7"/>
<rect x="365.71" y="91.95" width="4.5" height="4.5" fill="#e4e4e4" stroke="#666" stroke-width="0.9"/>
<line x1="365.71" y1="94.2" x2="370.21" y2="94.2" stroke="#666" stroke-width="0.7"/>
<line x1="367.96" y1="91.95" x2="367.96" y2="96.45" stroke="#666" stroke-width="0.7"/>
<rect x="379.14" y="61.55" width="4.5" height="4.5" fill="#e4e4e4" stroke="#666" stroke-width="0.9"/>
<line x1="379.14" y1="63.8" x2="383.64" y2="63.8" stroke="#666" stroke-width="0.7"/>
<line x1="381.39" y1="61.55" x2="381.39" y2="66.05" stroke="#666" stroke-width="0.7"/>
<rect x="389.21" y="55.95" width="4.5" height="4.5" fill="#e4e4e4" stroke="#666" stroke-width="0.9"/>
<line x1="389.21" y1="58.2" x2="393.71" y2="58.2" stroke="#666" stroke-width="0.7"/>
<line x1="391.46" y1="55.95" x2="391.46" y2="60.45" stroke="#666" stroke-width="0.7"/>
<line x1="297.46" y1="156.6" x2="297.46" y2="163" stroke="#111" stroke-width="0.8"/>
<line x1="296.26" y1="156.6" x2="298.66" y2="156.6" stroke="#111" stroke-width="0.7200000000000001"/>
<line x1="296.26" y1="163" x2="298.66" y2="163" stroke="#111" stroke-width="0.7200000000000001"/>
<line x1="314.25" y1="144.92" x2="314.25" y2="157.08" stroke="#111" stroke-width="0.8"/>
<line x1="313.05" y1="144.92" x2="315.45" y2="144.92" stroke="#111" stroke-width="0.7200000000000001"/>
<line x1="313.05" y1="157.08" x2="315.45" y2="157.08" stroke="#111" stroke-width="0.7200000000000001"/>
<line x1="324.32" y1="142.2" x2="324.32" y2="155" stroke="#111" stroke-width="0.8"/>
<line x1="323.12" y1="142.2" x2="325.52" y2="142.2" stroke="#111" stroke-width="0.7200000000000001"/>
<line x1="323.12" y1="155" x2="325.52" y2="155" stroke="#111" stroke-width="0.7200000000000001"/>
<line x1="334.39" y1="146.52" x2="334.39" y2="158.68" stroke="#111" stroke-width="0.8"/>
<line x1="333.19" y1="146.52" x2="335.59" y2="146.52" stroke="#111" stroke-width="0.7200000000000001"/>
<line x1="333.19" y1="158.68" x2="335.59" y2="158.68" stroke="#111" stroke-width="0.7200000000000001"/>
<line x1="344.46" y1="147.32" x2="344.46" y2="159.48" stroke="#111" stroke-width="0.8"/>
<line x1="343.26" y1="147.32" x2="345.66" y2="147.32" stroke="#111" stroke-width="0.7200000000000001"/>
<line x1="343.26" y1="159.48" x2="345.66" y2="159.48" stroke="#111" stroke-width="0.7200000000000001"/>
<line x1="357.89" y1="141.4" x2="357.89" y2="155.8" stroke="#111" stroke-width="0.8"/>
<line x1="356.69" y1="141.4" x2="359.09" y2="141.4" stroke="#111" stroke-width="0.7200000000000001"/>
<line x1="356.69" y1="155.8" x2="359.09" y2="155.8" stroke="#111" stroke-width="0.7200000000000001"/>
<line x1="367.96" y1="143.8" x2="367.96" y2="158.2" stroke="#111" stroke-width="0.8"/>
<line x1="366.76" y1="143.8" x2="369.16" y2="143.8" stroke="#111" stroke-width="0.7200000000000001"/>
<line x1="366.76" y1="158.2" x2="369.16" y2="158.2" stroke="#111" stroke-width="0.7200000000000001"/>
<line x1="381.39" y1="138.2" x2="381.39" y2="154.2" stroke="#111" stroke-width="0.8"/>
<line x1="380.19" y1="138.2" x2="382.59" y2="138.2" stroke="#111" stroke-width="0.7200000000000001"/>
<line x1="380.19" y1="154.2" x2="382.59" y2="154.2" stroke="#111" stroke-width="0.7200000000000001"/>
<line x1="391.46" y1="126.68" x2="391.46" y2="144.28" stroke="#111" stroke-width="0.8"/>
<line x1="390.26" y1="126.68" x2="392.66" y2="126.68" stroke="#111" stroke-width="0.7200000000000001"/>
<line x1="390.26" y1="144.28" x2="392.66" y2="144.28" stroke="#111" stroke-width="0.7200000000000001"/>
<line x1="404.89" y1="118.68" x2="404.89" y2="139.48" stroke="#111" stroke-width="0.8"/>
<line x1="403.69" y1="118.68" x2="406.09" y2="118.68" stroke="#111" stroke-width="0.7200000000000001"/>
<line x1="403.69" y1="139.48" x2="406.09" y2="139.48" stroke="#111" stroke-width="0.7200000000000001"/>
<line x1="414.96" y1="104.28" x2="414.96" y2="133.72" stroke="#111" stroke-width="0.8"/>
<line x1="413.76" y1="104.28" x2="416.16" y2="104.28" stroke="#111" stroke-width="0.7200000000000001"/>
<line x1="413.76" y1="133.72" x2="416.16" y2="133.72" stroke="#111" stroke-width="0.7200000000000001"/>
<line x1="438.46" y1="87.48" x2="438.46" y2="119.48" stroke="#111" stroke-width="0.8"/>
<line x1="437.26" y1="87.48" x2="439.66" y2="87.48" stroke="#111" stroke-width="0.7200000000000001"/>
<line x1="437.26" y1="119.48" x2="439.66" y2="119.48" stroke="#111" stroke-width="0.7200000000000001"/>
<line x1="461.96" y1="61.88" x2="461.96" y2="106.68" stroke="#111" stroke-width="0.8"/>
<line x1="460.76" y1="61.88" x2="463.16" y2="61.88" stroke="#111" stroke-width="0.7200000000000001"/>
<line x1="460.76" y1="106.68" x2="463.16" y2="106.68" stroke="#111" stroke-width="0.7200000000000001"/>
<polyline points="287.39,166.2 297.46,159.8 314.25,151 324.32,148.6 334.39,152.6 344.46,153.4 357.89,148.6 367.96,151 381.39,146.2 391.46,135.48 404.89,129.08 414.96,119 438.46,103.48 461.96,84.28" fill="none" stroke="#111" stroke-width="1.05" stroke-linejoin="miter"/>
<circle cx="287.39" cy="166.2" r="2.5" fill="#111"/>
<circle cx="297.46" cy="159.8" r="2.5" fill="#111"/>
<circle cx="314.25" cy="151" r="2.5" fill="#111"/>
<circle cx="324.32" cy="148.6" r="2.5" fill="#111"/>
<circle cx="334.39" cy="152.6" r="2.5" fill="#111"/>
<circle cx="344.46" cy="153.4" r="2.5" fill="#111"/>
<circle cx="357.89" cy="148.6" r="2.5" fill="#111"/>
<circle cx="367.96" cy="151" r="2.5" fill="#111"/>
<circle cx="381.39" cy="146.2" r="2.5" fill="#111"/>
<circle cx="391.46" cy="135.48" r="2.5" fill="#111"/>
<circle cx="404.89" cy="129.08" r="2.5" fill="#111"/>
<circle cx="414.96" cy="119" r="2.5" fill="#111"/>
<circle cx="438.46" cy="103.48" r="2.5" fill="#111"/>
<circle cx="461.96" cy="84.28" r="2.5" fill="#111"/>
<line x1="297.46" y1="160.6" x2="297.46" y2="167" stroke="#111" stroke-width="0.8"/>
<line x1="296.26" y1="160.6" x2="298.66" y2="160.6" stroke="#111" stroke-width="0.7200000000000001"/>
<line x1="296.26" y1="167" x2="298.66" y2="167" stroke="#111" stroke-width="0.7200000000000001"/>
<line x1="314.25" y1="165.4" x2="314.25" y2="173.4" stroke="#111" stroke-width="0.8"/>
<line x1="313.05" y1="165.4" x2="315.45" y2="165.4" stroke="#111" stroke-width="0.7200000000000001"/>
<line x1="313.05" y1="173.4" x2="315.45" y2="173.4" stroke="#111" stroke-width="0.7200000000000001"/>
<line x1="324.32" y1="167" x2="324.32" y2="175" stroke="#111" stroke-width="0.8"/>
<line x1="323.12" y1="167" x2="325.52" y2="167" stroke="#111" stroke-width="0.7200000000000001"/>
<line x1="323.12" y1="175" x2="325.52" y2="175" stroke="#111" stroke-width="0.7200000000000001"/>
<line x1="334.39" y1="169.4" x2="334.39" y2="175.8" stroke="#111" stroke-width="0.8"/>
<line x1="333.19" y1="169.4" x2="335.59" y2="169.4" stroke="#111" stroke-width="0.7200000000000001"/>
<line x1="333.19" y1="175.8" x2="335.59" y2="175.8" stroke="#111" stroke-width="0.7200000000000001"/>
<line x1="344.46" y1="171" x2="344.46" y2="177.4" stroke="#111" stroke-width="0.8"/>
<line x1="343.26" y1="171" x2="345.66" y2="171" stroke="#111" stroke-width="0.7200000000000001"/>
<line x1="343.26" y1="177.4" x2="345.66" y2="177.4" stroke="#111" stroke-width="0.7200000000000001"/>
<line x1="357.89" y1="169.4" x2="357.89" y2="177.4" stroke="#111" stroke-width="0.8"/>
<line x1="356.69" y1="169.4" x2="359.09" y2="169.4" stroke="#111" stroke-width="0.7200000000000001"/>
<line x1="356.69" y1="177.4" x2="359.09" y2="177.4" stroke="#111" stroke-width="0.7200000000000001"/>
<line x1="367.96" y1="167.8" x2="367.96" y2="177.4" stroke="#111" stroke-width="0.8"/>
<line x1="366.76" y1="167.8" x2="369.16" y2="167.8" stroke="#111" stroke-width="0.7200000000000001"/>
<line x1="366.76" y1="177.4" x2="369.16" y2="177.4" stroke="#111" stroke-width="0.7200000000000001"/>
<line x1="381.39" y1="163.8" x2="381.39" y2="175" stroke="#111" stroke-width="0.8"/>
<line x1="380.19" y1="163.8" x2="382.59" y2="163.8" stroke="#111" stroke-width="0.7200000000000001"/>
<line x1="380.19" y1="175" x2="382.59" y2="175" stroke="#111" stroke-width="0.7200000000000001"/>
<line x1="391.46" y1="158.2" x2="391.46" y2="171" stroke="#111" stroke-width="0.8"/>
<line x1="390.26" y1="158.2" x2="392.66" y2="158.2" stroke="#111" stroke-width="0.7200000000000001"/>
<line x1="390.26" y1="171" x2="392.66" y2="171" stroke="#111" stroke-width="0.7200000000000001"/>
<line x1="404.89" y1="156.6" x2="404.89" y2="169.4" stroke="#111" stroke-width="0.8"/>
<line x1="403.69" y1="156.6" x2="406.09" y2="156.6" stroke="#111" stroke-width="0.7200000000000001"/>
<line x1="403.69" y1="169.4" x2="406.09" y2="169.4" stroke="#111" stroke-width="0.7200000000000001"/>
<line x1="414.96" y1="157.4" x2="414.96" y2="168.6" stroke="#111" stroke-width="0.8"/>
<line x1="413.76" y1="157.4" x2="416.16" y2="157.4" stroke="#111" stroke-width="0.7200000000000001"/>
<line x1="413.76" y1="168.6" x2="416.16" y2="168.6" stroke="#111" stroke-width="0.7200000000000001"/>
<line x1="438.46" y1="140.6" x2="438.46" y2="161.4" stroke="#111" stroke-width="0.8"/>
<line x1="437.26" y1="140.6" x2="439.66" y2="140.6" stroke="#111" stroke-width="0.7200000000000001"/>
<line x1="437.26" y1="161.4" x2="439.66" y2="161.4" stroke="#111" stroke-width="0.7200000000000001"/>
<line x1="461.96" y1="103.8" x2="461.96" y2="151.8" stroke="#111" stroke-width="0.8"/>
<line x1="460.76" y1="103.8" x2="463.16" y2="103.8" stroke="#111" stroke-width="0.7200000000000001"/>
<line x1="460.76" y1="151.8" x2="463.16" y2="151.8" stroke="#111" stroke-width="0.7200000000000001"/>
<polyline points="287.39,166.2 297.46,163.8 314.25,169.4 324.32,171 334.39,172.6 344.46,174.2 357.89,173.4 367.96,172.6 381.39,169.4 391.46,164.6 404.89,163 414.96,163 438.46,151 461.96,127.8" fill="none" stroke="#111" stroke-width="1.05" stroke-linejoin="miter"/>
<polygon points="287.39,163.3 290.29,168.52 284.49,168.52" fill="#111"/>
<polygon points="297.46,160.9 300.36,166.12 294.56,166.12" fill="#111"/>
<polygon points="314.25,166.5 317.15,171.72 311.35,171.72" fill="#111"/>
<polygon points="324.32,168.1 327.22,173.32 321.42,173.32" fill="#111"/>
<polygon points="334.39,169.7 337.29,174.92 331.49,174.92" fill="#111"/>
<polygon points="344.46,171.3 347.36,176.52 341.56,176.52" fill="#111"/>
<polygon points="357.89,170.5 360.79,175.72 354.99,175.72" fill="#111"/>
<polygon points="367.96,169.7 370.86,174.92 365.06,174.92" fill="#111"/>
<polygon points="381.39,166.5 384.29,171.72 378.49,171.72" fill="#111"/>
<polygon points="391.46,161.7 394.36,166.92 388.56,166.92" fill="#111"/>
<polygon points="404.89,160.1 407.79,165.32 401.99,165.32" fill="#111"/>
<polygon points="414.96,160.1 417.86,165.32 412.06,165.32" fill="#111"/>
<polygon points="438.46,148.1 441.36,153.32 435.56,153.32" fill="#111"/>
<polygon points="461.96,124.9 464.86,130.12 459.06,130.12" fill="#111"/>
<polyline points="287.39,166.2 297.46,167 314.25,175.8 324.32,177.4 334.39,179 344.46,179.8 357.89,178.2 367.96,179.8 381.39,177.4 391.46,180.6 404.89,180.6 414.96,180.6 438.46,179 461.96,174.2" fill="none" stroke="#111" stroke-width="1.05" stroke-linejoin="miter"/>
<polygon points="287.39,163.1 290.49,166.2 287.39,169.3 284.29,166.2" fill="#111"/>
<polygon points="297.46,163.9 300.56,167 297.46,170.1 294.36,167" fill="#111"/>
<polygon points="314.25,172.7 317.35,175.8 314.25,178.9 311.15,175.8" fill="#111"/>
<polygon points="324.32,174.3 327.42,177.4 324.32,180.5 321.22,177.4" fill="#111"/>
<polygon points="334.39,175.9 337.49,179 334.39,182.1 331.29,179" fill="#111"/>
<polygon points="344.46,176.7 347.56,179.8 344.46,182.9 341.36,179.8" fill="#111"/>
<polygon points="357.89,175.1 360.99,178.2 357.89,181.3 354.79,178.2" fill="#111"/>
<polygon points="367.96,176.7 371.06,179.8 367.96,182.9 364.86,179.8" fill="#111"/>
<polygon points="381.39,174.3 384.49,177.4 381.39,180.5 378.29,177.4" fill="#111"/>
<polygon points="391.46,177.5 394.56,180.6 391.46,183.7 388.36,180.6" fill="#111"/>
<polygon points="404.89,177.5 407.99,180.6 404.89,183.7 401.79,180.6" fill="#111"/>
<polygon points="414.96,177.5 418.06,180.6 414.96,183.7 411.86,180.6" fill="#111"/>
<polygon points="438.46,175.9 441.56,179 438.46,182.1 435.36,179" fill="#111"/>
<polygon points="461.96,171.1 465.06,174.2 461.96,177.3 458.86,174.2" fill="#111"/>
<polyline points="287.39,166.2 297.46,165.4 314.25,176.6 324.32,176.6 334.39,178.2 344.46,179 357.89,177.4 367.96,179 381.39,176.6 391.46,180.6 404.89,179.8 414.96,180.6 438.46,179 461.96,176.6" fill="none" stroke="#111" stroke-width="0.8" stroke-linejoin="miter"/>
<polygon points="286.44,163.5 288.34,163.5 288.34,165.25 290.09,165.25 290.09,167.15 288.34,167.15 288.34,168.9 286.44,168.9 286.44,167.15 284.69,167.15 284.69,165.25 286.44,165.25" fill="#fff" stroke="#111" stroke-width="1.0"/>
<polygon points="296.51,162.7 298.41,162.7 298.41,164.45 300.16,164.45 300.16,166.35 298.41,166.35 298.41,168.1 296.51,168.1 296.51,166.35 294.76,166.35 294.76,164.45 296.51,164.45" fill="#fff" stroke="#111" stroke-width="1.0"/>
<polygon points="313.3,173.9 315.2,173.9 315.2,175.65 316.95,175.65 316.95,177.55 315.2,177.55 315.2,179.3 313.3,179.3 313.3,177.55 311.55,177.55 311.55,175.65 313.3,175.65" fill="#fff" stroke="#111" stroke-width="1.0"/>
<polygon points="323.37,173.9 325.27,173.9 325.27,175.65 327.02,175.65 327.02,177.55 325.27,177.55 325.27,179.3 323.37,179.3 323.37,177.55 321.62,177.55 321.62,175.65 323.37,175.65" fill="#fff" stroke="#111" stroke-width="1.0"/>
<polygon points="333.44,175.5 335.34,175.5 335.34,177.25 337.09,177.25 337.09,179.15 335.34,179.15 335.34,180.9 333.44,180.9 333.44,179.15 331.69,179.15 331.69,177.25 333.44,177.25" fill="#fff" stroke="#111" stroke-width="1.0"/>
<polygon points="343.51,176.3 345.41,176.3 345.41,178.05 347.16,178.05 347.16,179.95 345.41,179.95 345.41,181.7 343.51,181.7 343.51,179.95 341.76,179.95 341.76,178.05 343.51,178.05" fill="#fff" stroke="#111" stroke-width="1.0"/>
<polygon points="356.94,174.7 358.84,174.7 358.84,176.45 360.59,176.45 360.59,178.35 358.84,178.35 358.84,180.1 356.94,180.1 356.94,178.35 355.19,178.35 355.19,176.45 356.94,176.45" fill="#fff" stroke="#111" stroke-width="1.0"/>
<polygon points="367.01,176.3 368.91,176.3 368.91,178.05 370.66,178.05 370.66,179.95 368.91,179.95 368.91,181.7 367.01,181.7 367.01,179.95 365.26,179.95 365.26,178.05 367.01,178.05" fill="#fff" stroke="#111" stroke-width="1.0"/>
<polygon points="380.44,173.9 382.34,173.9 382.34,175.65 384.09,175.65 384.09,177.55 382.34,177.55 382.34,179.3 380.44,179.3 380.44,177.55 378.69,177.55 378.69,175.65 380.44,175.65" fill="#fff" stroke="#111" stroke-width="1.0"/>
<polygon points="390.51,177.9 392.41,177.9 392.41,179.65 394.16,179.65 394.16,181.55 392.41,181.55 392.41,183.3 390.51,183.3 390.51,181.55 388.76,181.55 388.76,179.65 390.51,179.65" fill="#fff" stroke="#111" stroke-width="1.0"/>
<polygon points="403.94,177.1 405.84,177.1 405.84,178.85 407.59,178.85 407.59,180.75 405.84,180.75 405.84,182.5 403.94,182.5 403.94,180.75 402.19,180.75 402.19,178.85 403.94,178.85" fill="#fff" stroke="#111" stroke-width="1.0"/>
<polygon points="414.01,177.9 415.91,177.9 415.91,179.65 417.66,179.65 417.66,181.55 415.91,181.55 415.91,183.3 414.01,183.3 414.01,181.55 412.26,181.55 412.26,179.65 414.01,179.65" fill="#fff" stroke="#111" stroke-width="1.0"/>
<polygon points="437.51,176.3 439.41,176.3 439.41,178.05 441.16,178.05 441.16,179.95 439.41,179.95 439.41,181.7 437.51,181.7 437.51,179.95 435.76,179.95 435.76,178.05 437.51,178.05" fill="#fff" stroke="#111" stroke-width="1.0"/>
<polygon points="461.01,173.9 462.91,173.9 462.91,175.65 464.66,175.65 464.66,177.55 462.91,177.55 462.91,179.3 461.01,179.3 461.01,177.55 459.26,177.55 459.26,175.65 461.01,175.65" fill="#fff" stroke="#111" stroke-width="1.0"/>
<polygon points="287.39,183.3 290.49,191.3 287.39,189.1 284.29,191.3" fill="#000"/>
<polygon points="294.11,183.3 297.21,191.3 294.11,189.1 291.01,191.3" fill="#000"/>
<polygon points="300.82,183.3 303.92,191.3 300.82,189.1 297.72,191.3" fill="#000"/>
<polygon points="310.89,183.3 313.99,191.3 310.89,189.1 307.79,191.3" fill="#000"/>
<polygon points="317.61,183.3 320.71,191.3 317.61,189.1 314.51,191.3" fill="#000"/>
<polygon points="324.32,183.3 327.42,191.3 324.32,189.1 321.22,191.3" fill="#000"/>
<polygon points="334.39,183.3 337.49,191.3 334.39,189.1 331.29,191.3" fill="#000"/>
<polygon points="341.1,183.3 344.2,191.3 341.1,189.1 338,191.3" fill="#000"/>
<polygon points="347.82,183.3 350.92,191.3 347.82,189.1 344.72,191.3" fill="#000"/>
<line x1="403.8" y1="17" x2="422.5" y2="17" stroke="#999" stroke-width="0.9" stroke-dasharray="1.2 1.6"/>
<rect x="410.3" y="14.7" width="4.6" height="4.6" fill="#e4e4e4" stroke="#666" stroke-width="0.9"/>
<line x1="410.3" y1="17" x2="414.9" y2="17" stroke="#666" stroke-width="0.7"/>
<line x1="412.6" y1="14.7" x2="412.6" y2="19.3" stroke="#666" stroke-width="0.7"/>
<text x="424.2" y="19.8" font-size="8" text-anchor="start" fill="#000">Control</text>
<line x1="403.8" y1="27.8" x2="422.5" y2="27.8" stroke="#111" stroke-width="0.9"/>
<polygon points="412.6,24.4 416,27.8 412.6,31.2 409.2,27.8" fill="#111"/>
<text x="424.2" y="30.6" font-size="8.15" text-anchor="start" fill="#000">DMDA-PatA, 0.94 mg/kg</text>
<line x1="403.8" y1="38.7" x2="422.5" y2="38.7" stroke="#111" stroke-width="0.9"/>
<polygon points="412.6,35.5 415.8,41.26 409.4,41.26" fill="#111"/>
<text x="424.2" y="41.5" font-size="8.15" text-anchor="start" fill="#000">DMDA-PatA, 0.70 mg/kg</text>
<line x1="403.8" y1="49.6" x2="422.5" y2="49.6" stroke="#111" stroke-width="0.9"/>
<circle cx="412.6" cy="49.6" r="2.5" fill="#111"/>
<text x="424.2" y="52.4" font-size="8.15" text-anchor="start" fill="#000">DMDA-PatA, 0.53 mg/kg</text>
<line x1="403.8" y1="60.5" x2="422.5" y2="60.5" stroke="#111" stroke-width="0.8"/>
<polygon points="411.4,57.2 413.8,57.2 413.8,59.3 415.9,59.3 415.9,61.7 413.8,61.7 413.8,63.8 411.4,63.8 411.4,61.7 409.3,61.7 409.3,59.3 411.4,59.3" fill="#fff" stroke="#111" stroke-width="1.0"/>
<text x="424.2" y="63.3" font-size="8.15" text-anchor="start" fill="#000">Paclitaxel, 20 mg/kg</text>
</g>
<g id="panelC">
<text x="-0.8" y="231.4" font-size="12.2" font-weight="bold" text-anchor="start" fill="#000">C</text>
<text x="125.9" y="228.1" font-size="9.3" text-anchor="middle" fill="#000">DLD-1 taxane-resistant colon cancer</text>
<line x1="33.3" y1="405.5" x2="216.84" y2="405.5" stroke="#222" stroke-width="0.9"/>
<line x1="33.3" y1="405.9" x2="33.3" y2="249.96" stroke="#222" stroke-width="0.9"/>
<line x1="33.3" y1="405.5" x2="33.3" y2="403.8" stroke="#222" stroke-width="0.6"/>
<line x1="36.52" y1="405.5" x2="36.52" y2="402.3" stroke="#222" stroke-width="0.6"/>
<line x1="39.74" y1="405.5" x2="39.74" y2="403.8" stroke="#222" stroke-width="0.6"/>
<line x1="42.96" y1="405.5" x2="42.96" y2="403.8" stroke="#222" stroke-width="0.6"/>
<line x1="46.18" y1="405.5" x2="46.18" y2="403.8" stroke="#222" stroke-width="0.6"/>
<line x1="49.4" y1="405.5" x2="49.4" y2="403.8" stroke="#222" stroke-width="0.6"/>
<line x1="52.62" y1="405.5" x2="52.62" y2="403.8" stroke="#222" stroke-width="0.6"/>
<line x1="55.84" y1="405.5" x2="55.84" y2="403.8" stroke="#222" stroke-width="0.6"/>
<line x1="59.06" y1="405.5" x2="59.06" y2="402.3" stroke="#222" stroke-width="0.6"/>
<line x1="62.28" y1="405.5" x2="62.28" y2="403.8" stroke="#222" stroke-width="0.6"/>
<line x1="65.5" y1="405.5" x2="65.5" y2="403.8" stroke="#222" stroke-width="0.6"/>
<line x1="68.72" y1="405.5" x2="68.72" y2="403.8" stroke="#222" stroke-width="0.6"/>
<line x1="71.94" y1="405.5" x2="71.94" y2="403.8" stroke="#222" stroke-width="0.6"/>
<line x1="75.16" y1="405.5" x2="75.16" y2="403.8" stroke="#222" stroke-width="0.6"/>
<line x1="78.38" y1="405.5" x2="78.38" y2="403.8" stroke="#222" stroke-width="0.6"/>
<line x1="81.6" y1="405.5" x2="81.6" y2="402.3" stroke="#222" stroke-width="0.6"/>
<line x1="84.82" y1="405.5" x2="84.82" y2="403.8" stroke="#222" stroke-width="0.6"/>
<line x1="88.04" y1="405.5" x2="88.04" y2="403.8" stroke="#222" stroke-width="0.6"/>
<line x1="91.26" y1="405.5" x2="91.26" y2="403.8" stroke="#222" stroke-width="0.6"/>
<line x1="94.48" y1="405.5" x2="94.48" y2="403.8" stroke="#222" stroke-width="0.6"/>
<line x1="97.7" y1="405.5" x2="97.7" y2="403.8" stroke="#222" stroke-width="0.6"/>
<line x1="100.92" y1="405.5" x2="100.92" y2="403.8" stroke="#222" stroke-width="0.6"/>
<line x1="104.14" y1="405.5" x2="104.14" y2="402.3" stroke="#222" stroke-width="0.6"/>
<line x1="107.36" y1="405.5" x2="107.36" y2="403.8" stroke="#222" stroke-width="0.6"/>
<line x1="110.58" y1="405.5" x2="110.58" y2="403.8" stroke="#222" stroke-width="0.6"/>
<line x1="113.8" y1="405.5" x2="113.8" y2="403.8" stroke="#222" stroke-width="0.6"/>
<line x1="117.02" y1="405.5" x2="117.02" y2="403.8" stroke="#222" stroke-width="0.6"/>
<line x1="120.24" y1="405.5" x2="120.24" y2="403.8" stroke="#222" stroke-width="0.6"/>
<line x1="123.46" y1="405.5" x2="123.46" y2="403.8" stroke="#222" stroke-width="0.6"/>
<line x1="126.68" y1="405.5" x2="126.68" y2="402.3" stroke="#222" stroke-width="0.6"/>
<line x1="129.9" y1="405.5" x2="129.9" y2="403.8" stroke="#222" stroke-width="0.6"/>
<line x1="133.12" y1="405.5" x2="133.12" y2="403.8" stroke="#222" stroke-width="0.6"/>
<line x1="136.34" y1="405.5" x2="136.34" y2="403.8" stroke="#222" stroke-width="0.6"/>
<line x1="139.56" y1="405.5" x2="139.56" y2="403.8" stroke="#222" stroke-width="0.6"/>
<line x1="142.78" y1="405.5" x2="142.78" y2="403.8" stroke="#222" stroke-width="0.6"/>
<line x1="146" y1="405.5" x2="146" y2="403.8" stroke="#222" stroke-width="0.6"/>
<line x1="149.22" y1="405.5" x2="149.22" y2="402.3" stroke="#222" stroke-width="0.6"/>
<line x1="152.44" y1="405.5" x2="152.44" y2="403.8" stroke="#222" stroke-width="0.6"/>
<line x1="155.66" y1="405.5" x2="155.66" y2="403.8" stroke="#222" stroke-width="0.6"/>
<line x1="158.88" y1="405.5" x2="158.88" y2="403.8" stroke="#222" stroke-width="0.6"/>
<line x1="162.1" y1="405.5" x2="162.1" y2="403.8" stroke="#222" stroke-width="0.6"/>
<line x1="165.32" y1="405.5" x2="165.32" y2="403.8" stroke="#222" stroke-width="0.6"/>
<line x1="168.54" y1="405.5" x2="168.54" y2="403.8" stroke="#222" stroke-width="0.6"/>
<line x1="171.76" y1="405.5" x2="171.76" y2="402.3" stroke="#222" stroke-width="0.6"/>
<line x1="174.98" y1="405.5" x2="174.98" y2="403.8" stroke="#222" stroke-width="0.6"/>
<line x1="178.2" y1="405.5" x2="178.2" y2="403.8" stroke="#222" stroke-width="0.6"/>
<line x1="181.42" y1="405.5" x2="181.42" y2="403.8" stroke="#222" stroke-width="0.6"/>
<line x1="184.64" y1="405.5" x2="184.64" y2="403.8" stroke="#222" stroke-width="0.6"/>
<line x1="187.86" y1="405.5" x2="187.86" y2="403.8" stroke="#222" stroke-width="0.6"/>
<line x1="191.08" y1="405.5" x2="191.08" y2="403.8" stroke="#222" stroke-width="0.6"/>
<line x1="194.3" y1="405.5" x2="194.3" y2="402.3" stroke="#222" stroke-width="0.6"/>
<line x1="197.52" y1="405.5" x2="197.52" y2="403.8" stroke="#222" stroke-width="0.6"/>
<line x1="200.74" y1="405.5" x2="200.74" y2="403.8" stroke="#222" stroke-width="0.6"/>
<line x1="203.96" y1="405.5" x2="203.96" y2="403.8" stroke="#222" stroke-width="0.6"/>
<line x1="207.18" y1="405.5" x2="207.18" y2="403.8" stroke="#222" stroke-width="0.6"/>
<line x1="210.4" y1="405.5" x2="210.4" y2="403.8" stroke="#222" stroke-width="0.6"/>
<line x1="213.62" y1="405.5" x2="213.62" y2="403.8" stroke="#222" stroke-width="0.6"/>
<line x1="216.84" y1="405.5" x2="216.84" y2="402.3" stroke="#222" stroke-width="0.6"/>
<line x1="33.3" y1="405.5" x2="36.5" y2="405.5" stroke="#222" stroke-width="0.6"/>
<line x1="33.3" y1="394.39" x2="35" y2="394.39" stroke="#222" stroke-width="0.6"/>
<line x1="33.3" y1="383.28" x2="36.5" y2="383.28" stroke="#222" stroke-width="0.6"/>
<line x1="33.3" y1="372.17" x2="35" y2="372.17" stroke="#222" stroke-width="0.6"/>
<line x1="33.3" y1="361.06" x2="36.5" y2="361.06" stroke="#222" stroke-width="0.6"/>
<line x1="33.3" y1="349.95" x2="35" y2="349.95" stroke="#222" stroke-width="0.6"/>
<line x1="33.3" y1="338.84" x2="36.5" y2="338.84" stroke="#222" stroke-width="0.6"/>
<line x1="33.3" y1="327.73" x2="35" y2="327.73" stroke="#222" stroke-width="0.6"/>
<line x1="33.3" y1="316.62" x2="36.5" y2="316.62" stroke="#222" stroke-width="0.6"/>
<line x1="33.3" y1="305.51" x2="35" y2="305.51" stroke="#222" stroke-width="0.6"/>
<line x1="33.3" y1="294.4" x2="36.5" y2="294.4" stroke="#222" stroke-width="0.6"/>
<line x1="33.3" y1="283.29" x2="35" y2="283.29" stroke="#222" stroke-width="0.6"/>
<line x1="33.3" y1="272.18" x2="36.5" y2="272.18" stroke="#222" stroke-width="0.6"/>
<line x1="33.3" y1="261.07" x2="35" y2="261.07" stroke="#222" stroke-width="0.6"/>
<line x1="33.3" y1="249.96" x2="36.5" y2="249.96" stroke="#222" stroke-width="0.6"/>
<text x="36.52" y="419.2" font-size="6.9" text-anchor="middle" fill="#000" class="tk">14</text>
<text x="59.06" y="419.2" font-size="6.9" text-anchor="middle" fill="#000" class="tk">21</text>
<text x="81.6" y="419.2" font-size="6.9" text-anchor="middle" fill="#000" class="tk">28</text>
<text x="104.14" y="419.2" font-size="6.9" text-anchor="middle" fill="#000" class="tk">35</text>
<text x="126.68" y="419.2" font-size="6.9" text-anchor="middle" fill="#000" class="tk">42</text>
<text x="149.22" y="419.2" font-size="6.9" text-anchor="middle" fill="#000" class="tk">49</text>
<text x="171.76" y="419.2" font-size="6.9" text-anchor="middle" fill="#000" class="tk">56</text>
<text x="194.3" y="419.2" font-size="6.9" text-anchor="middle" fill="#000" class="tk">63</text>
<text x="216.84" y="419.2" font-size="6.9" text-anchor="middle" fill="#000" class="tk">70</text>
<text x="28.1" y="408.36" font-size="6.7" text-anchor="end" fill="#000" class="tk">0</text>
<text x="28.1" y="386.14" font-size="6.7" text-anchor="end" fill="#000" class="tk">200</text>
<text x="28.1" y="363.92" font-size="6.7" text-anchor="end" fill="#000" class="tk">400</text>
<text x="28.1" y="341.7" font-size="6.7" text-anchor="end" fill="#000" class="tk">600</text>
<text x="28.1" y="319.48" font-size="6.7" text-anchor="end" fill="#000" class="tk">800</text>
<text x="28.1" y="297.26" font-size="6.7" text-anchor="end" fill="#000" class="tk">1000</text>
<text x="28.1" y="275.04" font-size="6.7" text-anchor="end" fill="#000" class="tk">1200</text>
<text x="28.1" y="252.82" font-size="6.7" text-anchor="end" fill="#000" class="tk">1400</text>
<text x="9.4" y="327" font-size="8.9" font-weight="bold" text-anchor="middle" fill="#000" transform="rotate(-90 9.4 327)">Average tumor size (mg)</text>
<text x="126.5" y="430.3" font-size="9.4" font-weight="bold" text-anchor="middle" fill="#000">Day</text>
<line x1="42.96" y1="372.39" x2="42.96" y2="379.06" stroke="#333" stroke-width="0.8"/>
<line x1="41.76" y1="372.39" x2="44.16" y2="372.39" stroke="#333" stroke-width="0.7200000000000001"/>
<line x1="41.76" y1="379.06" x2="44.16" y2="379.06" stroke="#333" stroke-width="0.7200000000000001"/>
<line x1="55.84" y1="351.95" x2="55.84" y2="365.73" stroke="#333" stroke-width="0.8"/>
<line x1="54.64" y1="351.95" x2="57.04" y2="351.95" stroke="#333" stroke-width="0.7200000000000001"/>
<line x1="54.64" y1="365.73" x2="57.04" y2="365.73" stroke="#333" stroke-width="0.7200000000000001"/>
<line x1="65.5" y1="322.51" x2="65.5" y2="348.06" stroke="#333" stroke-width="0.8"/>
<line x1="64.3" y1="322.51" x2="66.7" y2="322.51" stroke="#333" stroke-width="0.7200000000000001"/>
<line x1="64.3" y1="348.06" x2="66.7" y2="348.06" stroke="#333" stroke-width="0.7200000000000001"/>
<line x1="78.38" y1="304.07" x2="78.38" y2="332.95" stroke="#333" stroke-width="0.8"/>
<line x1="77.18" y1="304.07" x2="79.58" y2="304.07" stroke="#333" stroke-width="0.7200000000000001"/>
<line x1="77.18" y1="332.95" x2="79.58" y2="332.95" stroke="#333" stroke-width="0.7200000000000001"/>
<line x1="88.04" y1="288.29" x2="88.04" y2="324.95" stroke="#333" stroke-width="0.8"/>
<line x1="86.84" y1="288.29" x2="89.24" y2="288.29" stroke="#333" stroke-width="0.7200000000000001"/>
<line x1="86.84" y1="324.95" x2="89.24" y2="324.95" stroke="#333" stroke-width="0.7200000000000001"/>
<line x1="100.92" y1="267.62" x2="100.92" y2="311.18" stroke="#333" stroke-width="0.8"/>
<line x1="99.72" y1="267.62" x2="102.12" y2="267.62" stroke="#333" stroke-width="0.7200000000000001"/>
<line x1="99.72" y1="311.18" x2="102.12" y2="311.18" stroke="#333" stroke-width="0.7200000000000001"/>
<polyline points="33.3,390.5 42.96,375.73 55.84,358.84 65.5,335.28 78.38,318.51 88.04,306.62 100.92,289.4" fill="none" stroke="#555" stroke-width="1.2" stroke-dasharray="2.4 2" stroke-linejoin="miter"/>
<rect x="31.2" y="388.4" width="4.2" height="4.2" fill="#e4e4e4" stroke="#666" stroke-width="0.9"/>
<line x1="31.2" y1="390.5" x2="35.4" y2="390.5" stroke="#666" stroke-width="0.7"/>
<line x1="33.3" y1="388.4" x2="33.3" y2="392.6" stroke="#666" stroke-width="0.7"/>
<rect x="40.86" y="373.63" width="4.2" height="4.2" fill="#e4e4e4" stroke="#666" stroke-width="0.9"/>
<line x1="40.86" y1="375.73" x2="45.06" y2="375.73" stroke="#666" stroke-width="0.7"/>
<line x1="42.96" y1="373.63" x2="42.96" y2="377.83" stroke="#666" stroke-width="0.7"/>
<rect x="53.74" y="356.74" width="4.2" height="4.2" fill="#e4e4e4" stroke="#666" stroke-width="0.9"/>
<line x1="53.74" y1="358.84" x2="57.94" y2="358.84" stroke="#666" stroke-width="0.7"/>
<line x1="55.84" y1="356.74" x2="55.84" y2="360.94" stroke="#666" stroke-width="0.7"/>
<rect x="63.4" y="333.18" width="4.2" height="4.2" fill="#e4e4e4" stroke="#666" stroke-width="0.9"/>
<line x1="63.4" y1="335.28" x2="67.6" y2="335.28" stroke="#666" stroke-width="0.7"/>
<line x1="65.5" y1="333.18" x2="65.5" y2="337.38" stroke="#666" stroke-width="0.7"/>
<rect x="76.28" y="316.41" width="4.2" height="4.2" fill="#e4e4e4" stroke="#666" stroke-width="0.9"/>
<line x1="76.28" y1="318.51" x2="80.48" y2="318.51" stroke="#666" stroke-width="0.7"/>
<line x1="78.38" y1="316.41" x2="78.38" y2="320.61" stroke="#666" stroke-width="0.7"/>
<rect x="85.94" y="304.52" width="4.2" height="4.2" fill="#e4e4e4" stroke="#666" stroke-width="0.9"/>
<line x1="85.94" y1="306.62" x2="90.14" y2="306.62" stroke="#666" stroke-width="0.7"/>
<line x1="88.04" y1="304.52" x2="88.04" y2="308.72" stroke="#666" stroke-width="0.7"/>
<rect x="98.82" y="287.3" width="4.2" height="4.2" fill="#e4e4e4" stroke="#666" stroke-width="0.9"/>
<line x1="98.82" y1="289.4" x2="103.02" y2="289.4" stroke="#666" stroke-width="0.7"/>
<line x1="100.92" y1="287.3" x2="100.92" y2="291.5" stroke="#666" stroke-width="0.7"/>
<line x1="42.96" y1="376.61" x2="42.96" y2="383.28" stroke="#111" stroke-width="0.8"/>
<line x1="41.76" y1="376.61" x2="44.16" y2="376.61" stroke="#111" stroke-width="0.7200000000000001"/>
<line x1="41.76" y1="383.28" x2="44.16" y2="383.28" stroke="#111" stroke-width="0.7200000000000001"/>
<line x1="55.84" y1="366.06" x2="55.84" y2="374.95" stroke="#111" stroke-width="0.8"/>
<line x1="54.64" y1="366.06" x2="57.04" y2="366.06" stroke="#111" stroke-width="0.7200000000000001"/>
<line x1="54.64" y1="374.95" x2="57.04" y2="374.95" stroke="#111" stroke-width="0.7200000000000001"/>
<line x1="65.5" y1="358.84" x2="65.5" y2="368.84" stroke="#111" stroke-width="0.8"/>
<line x1="64.3" y1="358.84" x2="66.7" y2="358.84" stroke="#111" stroke-width="0.7200000000000001"/>
<line x1="64.3" y1="368.84" x2="66.7" y2="368.84" stroke="#111" stroke-width="0.7200000000000001"/>
<line x1="78.38" y1="349.95" x2="78.38" y2="361.06" stroke="#111" stroke-width="0.8"/>
<line x1="77.18" y1="349.95" x2="79.58" y2="349.95" stroke="#111" stroke-width="0.7200000000000001"/>
<line x1="77.18" y1="361.06" x2="79.58" y2="361.06" stroke="#111" stroke-width="0.7200000000000001"/>
<line x1="88.04" y1="347.73" x2="88.04" y2="358.84" stroke="#111" stroke-width="0.8"/>
<line x1="86.84" y1="347.73" x2="89.24" y2="347.73" stroke="#111" stroke-width="0.7200000000000001"/>
<line x1="86.84" y1="358.84" x2="89.24" y2="358.84" stroke="#111" stroke-width="0.7200000000000001"/>
<line x1="100.92" y1="322.73" x2="100.92" y2="340.51" stroke="#111" stroke-width="0.8"/>
<line x1="99.72" y1="322.73" x2="102.12" y2="322.73" stroke="#111" stroke-width="0.7200000000000001"/>
<line x1="99.72" y1="340.51" x2="102.12" y2="340.51" stroke="#111" stroke-width="0.7200000000000001"/>
<line x1="107.36" y1="317.73" x2="107.36" y2="337.73" stroke="#111" stroke-width="0.8"/>
<line x1="106.16" y1="317.73" x2="108.56" y2="317.73" stroke="#111" stroke-width="0.7200000000000001"/>
<line x1="106.16" y1="337.73" x2="108.56" y2="337.73" stroke="#111" stroke-width="0.7200000000000001"/>
<line x1="123.46" y1="306.62" x2="123.46" y2="328.84" stroke="#111" stroke-width="0.8"/>
<line x1="122.26" y1="306.62" x2="124.66" y2="306.62" stroke="#111" stroke-width="0.7200000000000001"/>
<line x1="122.26" y1="328.84" x2="124.66" y2="328.84" stroke="#111" stroke-width="0.7200000000000001"/>
<line x1="133.12" y1="291.07" x2="133.12" y2="322.18" stroke="#111" stroke-width="0.8"/>
<line x1="131.92" y1="291.07" x2="134.32" y2="291.07" stroke="#111" stroke-width="0.7200000000000001"/>
<line x1="131.92" y1="322.18" x2="134.32" y2="322.18" stroke="#111" stroke-width="0.7200000000000001"/>
<line x1="146" y1="281.85" x2="146" y2="315.18" stroke="#111" stroke-width="0.8"/>
<line x1="144.8" y1="281.85" x2="147.2" y2="281.85" stroke="#111" stroke-width="0.7200000000000001"/>
<line x1="144.8" y1="315.18" x2="147.2" y2="315.18" stroke="#111" stroke-width="0.7200000000000001"/>
<polyline points="33.3,387.17 42.96,379.95 55.84,370.5 65.5,363.84 78.38,355.5 88.04,353.28 100.92,331.62 107.36,327.73 123.46,317.73 133.12,306.62 146,298.51" fill="none" stroke="#111" stroke-width="0.9" stroke-linejoin="miter"/>
<rect x="31.8" y="385.67" width="3" height="3" fill="#fff" stroke="#111" stroke-width="0.5"/>
<polygon points="34.8,385.67 34.8,388.67 31.8,388.67" fill="#111"/>
<rect x="41.46" y="378.45" width="3" height="3" fill="#fff" stroke="#111" stroke-width="0.5"/>
<polygon points="44.46,378.45 44.46,381.45 41.46,381.45" fill="#111"/>
<rect x="54.34" y="369" width="3" height="3" fill="#fff" stroke="#111" stroke-width="0.5"/>
<polygon points="57.34,369 57.34,372 54.34,372" fill="#111"/>
<rect x="64" y="362.34" width="3" height="3" fill="#fff" stroke="#111" stroke-width="0.5"/>
<polygon points="67,362.34 67,365.34 64,365.34" fill="#111"/>
<rect x="76.88" y="354" width="3" height="3" fill="#fff" stroke="#111" stroke-width="0.5"/>
<polygon points="79.88,354 79.88,357 76.88,357" fill="#111"/>
<rect x="86.54" y="351.78" width="3" height="3" fill="#fff" stroke="#111" stroke-width="0.5"/>
<polygon points="89.54,351.78 89.54,354.78 86.54,354.78" fill="#111"/>
<rect x="99.42" y="330.12" width="3" height="3" fill="#fff" stroke="#111" stroke-width="0.5"/>
<polygon points="102.42,330.12 102.42,333.12 99.42,333.12" fill="#111"/>
<rect x="105.86" y="326.23" width="3" height="3" fill="#fff" stroke="#111" stroke-width="0.5"/>
<polygon points="108.86,326.23 108.86,329.23 105.86,329.23" fill="#111"/>
<rect x="121.96" y="316.23" width="3" height="3" fill="#fff" stroke="#111" stroke-width="0.5"/>
<polygon points="124.96,316.23 124.96,319.23 121.96,319.23" fill="#111"/>
<rect x="131.62" y="305.12" width="3" height="3" fill="#fff" stroke="#111" stroke-width="0.5"/>
<polygon points="134.62,305.12 134.62,308.12 131.62,308.12" fill="#111"/>
<rect x="144.5" y="297.01" width="3" height="3" fill="#fff" stroke="#111" stroke-width="0.5"/>
<polygon points="147.5,297.01 147.5,300.01 144.5,300.01" fill="#111"/>
<line x1="42.96" y1="382.95" x2="42.96" y2="388.5" stroke="#111" stroke-width="0.8"/>
<line x1="41.76" y1="382.95" x2="44.16" y2="382.95" stroke="#111" stroke-width="0.7200000000000001"/>
<line x1="41.76" y1="388.5" x2="44.16" y2="388.5" stroke="#111" stroke-width="0.7200000000000001"/>
<line x1="55.84" y1="368.84" x2="55.84" y2="377.73" stroke="#111" stroke-width="0.8"/>
<line x1="54.64" y1="368.84" x2="57.04" y2="368.84" stroke="#111" stroke-width="0.7200000000000001"/>
<line x1="54.64" y1="377.73" x2="57.04" y2="377.73" stroke="#111" stroke-width="0.7200000000000001"/>
<line x1="65.5" y1="362.5" x2="65.5" y2="372.5" stroke="#111" stroke-width="0.8"/>
<line x1="64.3" y1="362.5" x2="66.7" y2="362.5" stroke="#111" stroke-width="0.7200000000000001"/>
<line x1="64.3" y1="372.5" x2="66.7" y2="372.5" stroke="#111" stroke-width="0.7200000000000001"/>
<line x1="78.38" y1="356.73" x2="78.38" y2="368.95" stroke="#111" stroke-width="0.8"/>
<line x1="77.18" y1="356.73" x2="79.58" y2="356.73" stroke="#111" stroke-width="0.7200000000000001"/>
<line x1="77.18" y1="368.95" x2="79.58" y2="368.95" stroke="#111" stroke-width="0.7200000000000001"/>
<line x1="88.04" y1="342.73" x2="88.04" y2="358.28" stroke="#111" stroke-width="0.8"/>
<line x1="86.84" y1="342.73" x2="89.24" y2="342.73" stroke="#111" stroke-width="0.7200000000000001"/>
<line x1="86.84" y1="358.28" x2="89.24" y2="358.28" stroke="#111" stroke-width="0.7200000000000001"/>
<line x1="100.92" y1="329.06" x2="100.92" y2="347.95" stroke="#111" stroke-width="0.8"/>
<line x1="99.72" y1="329.06" x2="102.12" y2="329.06" stroke="#111" stroke-width="0.7200000000000001"/>
<line x1="99.72" y1="347.95" x2="102.12" y2="347.95" stroke="#111" stroke-width="0.7200000000000001"/>
<line x1="123.46" y1="294.4" x2="123.46" y2="325.51" stroke="#111" stroke-width="0.8"/>
<line x1="122.26" y1="294.4" x2="124.66" y2="294.4" stroke="#111" stroke-width="0.7200000000000001"/>
<line x1="122.26" y1="325.51" x2="124.66" y2="325.51" stroke="#111" stroke-width="0.7200000000000001"/>
<line x1="133.12" y1="273.62" x2="133.12" y2="310.29" stroke="#111" stroke-width="0.8"/>
<line x1="131.92" y1="273.62" x2="134.32" y2="273.62" stroke="#111" stroke-width="0.7200000000000001"/>
<line x1="131.92" y1="310.29" x2="134.32" y2="310.29" stroke="#111" stroke-width="0.7200000000000001"/>
<line x1="146" y1="249.96" x2="146" y2="290.4" stroke="#111" stroke-width="0.8"/>
<line x1="144.8" y1="249.96" x2="147.2" y2="249.96" stroke="#111" stroke-width="0.7200000000000001"/>
<line x1="144.8" y1="290.4" x2="147.2" y2="290.4" stroke="#111" stroke-width="0.7200000000000001"/>
<polyline points="33.3,390.5 42.96,385.72 55.84,373.28 65.5,367.5 78.38,362.84 88.04,350.51 100.92,338.51 123.46,309.95 133.12,291.96 146,270.18" fill="none" stroke="#111" stroke-width="1.05" stroke-linejoin="miter"/>
<rect x="31.05" y="388.25" width="4.5" height="4.5" fill="#111"/>
<rect x="40.71" y="383.47" width="4.5" height="4.5" fill="#111"/>
<rect x="53.59" y="371.03" width="4.5" height="4.5" fill="#111"/>
<rect x="63.25" y="365.25" width="4.5" height="4.5" fill="#111"/>
<rect x="76.13" y="360.59" width="4.5" height="4.5" fill="#111"/>
<rect x="85.79" y="348.26" width="4.5" height="4.5" fill="#111"/>
<rect x="98.67" y="336.26" width="4.5" height="4.5" fill="#111"/>
<rect x="121.21" y="307.7" width="4.5" height="4.5" fill="#111"/>
<rect x="130.87" y="289.71" width="4.5" height="4.5" fill="#111"/>
<rect x="143.75" y="267.93" width="4.5" height="4.5" fill="#111"/>
<polygon points="33.3,405.2 36.2,413 33.3,411.1 30.4,413" fill="#000"/>
<polygon points="46.18,405.2 49.08,413 46.18,411.1 43.28,413" fill="#000"/>
<polygon points="59.06,405.2 61.96,413 59.06,411.1 56.16,413" fill="#000"/>
<polygon points="71.94,405.2 74.84,413 71.94,411.1 69.04,413" fill="#000"/>
<polygon points="84.82,405.2 87.72,413 84.82,411.1 81.92,413" fill="#000"/>
<polygon points="97.7,405.2 100.6,413 97.7,411.1 94.8,413" fill="#000"/>
<line x1="117" y1="364.8" x2="135" y2="364.8" stroke="#555" stroke-width="1.1" stroke-dasharray="2.4 2"/>
<rect x="123.9" y="362.7" width="4.2" height="4.2" fill="#e4e4e4" stroke="#666" stroke-width="0.9"/>
<line x1="123.9" y1="364.8" x2="128.1" y2="364.8" stroke="#666" stroke-width="0.7"/>
<line x1="126" y1="362.7" x2="126" y2="366.9" stroke="#666" stroke-width="0.7"/>
<text x="136.8" y="367.6" font-size="8" text-anchor="start" fill="#000">CONTROL</text>
<line x1="117" y1="373.4" x2="135" y2="373.4" stroke="#111" stroke-width="0.9"/>
<rect x="123.7" y="371.1" width="4.6" height="4.6" fill="#111"/>
<text x="136.8" y="376.2" font-size="8.15" text-anchor="start" fill="#000">DMDA-PatA, 1.67 mg/kg</text>
<line x1="117" y1="381.6" x2="135" y2="381.6" stroke="#111" stroke-width="0.9"/>
<rect x="124.3" y="379.9" width="3.4" height="3.4" fill="#fff" stroke="#111" stroke-width="0.5"/>
<polygon points="127.7,379.9 127.7,383.3 124.3,383.3" fill="#111"/>
<text x="136.8" y="384.4" font-size="8.15" text-anchor="start" fill="#000">CPT-11, 40 mg/kg</text>
</g>
<g id="panelH">
<text x="386" y="228.6" font-size="9.3" text-anchor="middle" fill="#000">H522-T1 non-small cell lung cancer</text>
<line x1="292.3" y1="404" x2="477.3" y2="404" stroke="#222" stroke-width="0.9"/>
<line x1="292.3" y1="404.4" x2="292.3" y2="246.8" stroke="#222" stroke-width="0.9"/>
<line x1="292.3" y1="404" x2="292.3" y2="402.3" stroke="#222" stroke-width="0.6"/>
<line x1="297.3" y1="404" x2="297.3" y2="402.3" stroke="#222" stroke-width="0.6"/>
<line x1="302.3" y1="404" x2="302.3" y2="400.8" stroke="#222" stroke-width="0.6"/>
<line x1="307.3" y1="404" x2="307.3" y2="402.3" stroke="#222" stroke-width="0.6"/>
<line x1="312.3" y1="404" x2="312.3" y2="402.3" stroke="#222" stroke-width="0.6"/>
<line x1="317.3" y1="404" x2="317.3" y2="402.3" stroke="#222" stroke-width="0.6"/>
<line x1="322.3" y1="404" x2="322.3" y2="402.3" stroke="#222" stroke-width="0.6"/>
<line x1="327.3" y1="404" x2="327.3" y2="402.3" stroke="#222" stroke-width="0.6"/>
<line x1="332.3" y1="404" x2="332.3" y2="402.3" stroke="#222" stroke-width="0.6"/>
<line x1="337.3" y1="404" x2="337.3" y2="400.8" stroke="#222" stroke-width="0.6"/>
<line x1="342.3" y1="404" x2="342.3" y2="402.3" stroke="#222" stroke-width="0.6"/>
<line x1="347.3" y1="404" x2="347.3" y2="402.3" stroke="#222" stroke-width="0.6"/>
<line x1="352.3" y1="404" x2="352.3" y2="402.3" stroke="#222" stroke-width="0.6"/>
<line x1="357.3" y1="404" x2="357.3" y2="402.3" stroke="#222" stroke-width="0.6"/>
<line x1="362.3" y1="404" x2="362.3" y2="402.3" stroke="#222" stroke-width="0.6"/>
<line x1="367.3" y1="404" x2="367.3" y2="402.3" stroke="#222" stroke-width="0.6"/>
<line x1="372.3" y1="404" x2="372.3" y2="400.8" stroke="#222" stroke-width="0.6"/>
<line x1="377.3" y1="404" x2="377.3" y2="402.3" stroke="#222" stroke-width="0.6"/>
<line x1="382.3" y1="404" x2="382.3" y2="402.3" stroke="#222" stroke-width="0.6"/>
<line x1="387.3" y1="404" x2="387.3" y2="402.3" stroke="#222" stroke-width="0.6"/>
<line x1="392.3" y1="404" x2="392.3" y2="402.3" stroke="#222" stroke-width="0.6"/>
<line x1="397.3" y1="404" x2="397.3" y2="402.3" stroke="#222" stroke-width="0.6"/>
<line x1="402.3" y1="404" x2="402.3" y2="402.3" stroke="#222" stroke-width="0.6"/>
<line x1="407.3" y1="404" x2="407.3" y2="400.8" stroke="#222" stroke-width="0.6"/>
<line x1="412.3" y1="404" x2="412.3" y2="402.3" stroke="#222" stroke-width="0.6"/>
<line x1="417.3" y1="404" x2="417.3" y2="402.3" stroke="#222" stroke-width="0.6"/>
<line x1="422.3" y1="404" x2="422.3" y2="402.3" stroke="#222" stroke-width="0.6"/>
<line x1="427.3" y1="404" x2="427.3" y2="402.3" stroke="#222" stroke-width="0.6"/>
<line x1="432.3" y1="404" x2="432.3" y2="402.3" stroke="#222" stroke-width="0.6"/>
<line x1="437.3" y1="404" x2="437.3" y2="402.3" stroke="#222" stroke-width="0.6"/>
<line x1="442.3" y1="404" x2="442.3" y2="400.8" stroke="#222" stroke-width="0.6"/>
<line x1="447.3" y1="404" x2="447.3" y2="402.3" stroke="#222" stroke-width="0.6"/>
<line x1="452.3" y1="404" x2="452.3" y2="402.3" stroke="#222" stroke-width="0.6"/>
<line x1="457.3" y1="404" x2="457.3" y2="402.3" stroke="#222" stroke-width="0.6"/>
<line x1="462.3" y1="404" x2="462.3" y2="402.3" stroke="#222" stroke-width="0.6"/>
<line x1="467.3" y1="404" x2="467.3" y2="402.3" stroke="#222" stroke-width="0.6"/>
<line x1="472.3" y1="404" x2="472.3" y2="402.3" stroke="#222" stroke-width="0.6"/>
<line x1="477.3" y1="404" x2="477.3" y2="400.8" stroke="#222" stroke-width="0.6"/>
<line x1="292.3" y1="404" x2="295.5" y2="404" stroke="#222" stroke-width="0.6"/>
<line x1="292.3" y1="397.45" x2="294" y2="397.45" stroke="#222" stroke-width="0.6"/>
<line x1="292.3" y1="390.9" x2="294" y2="390.9" stroke="#222" stroke-width="0.6"/>
<line x1="292.3" y1="384.35" x2="295.5" y2="384.35" stroke="#222" stroke-width="0.6"/>
<line x1="292.3" y1="377.8" x2="294" y2="377.8" stroke="#222" stroke-width="0.6"/>
<line x1="292.3" y1="371.25" x2="294" y2="371.25" stroke="#222" stroke-width="0.6"/>
<line x1="292.3" y1="364.7" x2="295.5" y2="364.7" stroke="#222" stroke-width="0.6"/>
<line x1="292.3" y1="358.15" x2="294" y2="358.15" stroke="#222" stroke-width="0.6"/>
<line x1="292.3" y1="351.6" x2="294" y2="351.6" stroke="#222" stroke-width="0.6"/>
<line x1="292.3" y1="345.05" x2="295.5" y2="345.05" stroke="#222" stroke-width="0.6"/>
<line x1="292.3" y1="338.5" x2="294" y2="338.5" stroke="#222" stroke-width="0.6"/>
<line x1="292.3" y1="331.95" x2="294" y2="331.95" stroke="#222" stroke-width="0.6"/>
<line x1="292.3" y1="325.4" x2="295.5" y2="325.4" stroke="#222" stroke-width="0.6"/>
<line x1="292.3" y1="318.85" x2="294" y2="318.85" stroke="#222" stroke-width="0.6"/>
<line x1="292.3" y1="312.3" x2="294" y2="312.3" stroke="#222" stroke-width="0.6"/>
<line x1="292.3" y1="305.75" x2="295.5" y2="305.75" stroke="#222" stroke-width="0.6"/>
<line x1="292.3" y1="299.2" x2="294" y2="299.2" stroke="#222" stroke-width="0.6"/>
<line x1="292.3" y1="292.65" x2="294" y2="292.65" stroke="#222" stroke-width="0.6"/>
<line x1="292.3" y1="286.1" x2="295.5" y2="286.1" stroke="#222" stroke-width="0.6"/>
<line x1="292.3" y1="279.55" x2="294" y2="279.55" stroke="#222" stroke-width="0.6"/>
<line x1="292.3" y1="273" x2="294" y2="273" stroke="#222" stroke-width="0.6"/>
<line x1="292.3" y1="266.45" x2="295.5" y2="266.45" stroke="#222" stroke-width="0.6"/>
<line x1="292.3" y1="259.9" x2="294" y2="259.9" stroke="#222" stroke-width="0.6"/>
<line x1="292.3" y1="253.35" x2="294" y2="253.35" stroke="#222" stroke-width="0.6"/>
<line x1="292.3" y1="246.8" x2="295.5" y2="246.8" stroke="#222" stroke-width="0.6"/>
<text x="302.3" y="422.3" font-size="6.7" text-anchor="middle" fill="#000" class="tk">14</text>
<text x="337.3" y="422.3" font-size="6.7" text-anchor="middle" fill="#000" class="tk">21</text>
<text x="372.3" y="422.3" font-size="6.7" text-anchor="middle" fill="#000" class="tk">28</text>
<text x="407.3" y="422.3" font-size="6.7" text-anchor="middle" fill="#000" class="tk">35</text>
<text x="442.3" y="422.3" font-size="6.7" text-anchor="middle" fill="#000" class="tk">42</text>
<text x="477.3" y="422.3" font-size="6.7" text-anchor="middle" fill="#000" class="tk">49</text>
<text x="287.1" y="406.86" font-size="6.7" text-anchor="end" fill="#000" class="tk">0</text>
<text x="287.1" y="387.21" font-size="6.7" text-anchor="end" fill="#000" class="tk">150</text>
<text x="287.1" y="367.56" font-size="6.7" text-anchor="end" fill="#000" class="tk">300</text>
<text x="287.1" y="347.91" font-size="6.7" text-anchor="end" fill="#000" class="tk">450</text>
<text x="287.1" y="328.26" font-size="6.7" text-anchor="end" fill="#000" class="tk">600</text>
<text x="287.1" y="308.61" font-size="6.7" text-anchor="end" fill="#000" class="tk">750</text>
<text x="287.1" y="288.96" font-size="6.7" text-anchor="end" fill="#000" class="tk">900</text>
<text x="287.1" y="269.31" font-size="6.7" text-anchor="end" fill="#000" class="tk">1050</text>
<text x="287.1" y="249.66" font-size="6.7" text-anchor="end" fill="#000" class="tk">1200</text>
<text x="268.2" y="325.3" font-size="8.95" font-weight="bold" text-anchor="middle" fill="#000" transform="rotate(-90 268.2 325.3)">Average tumor size (mg)</text>
<text x="393" y="429.5" font-size="9" font-weight="bold" text-anchor="middle" fill="#000">Day</text>
<line x1="297.3" y1="358.15" x2="297.3" y2="372.56" stroke="#333" stroke-width="0.8"/>
<line x1="296.1" y1="358.15" x2="298.5" y2="358.15" stroke="#333" stroke-width="0.7200000000000001"/>
<line x1="296.1" y1="372.56" x2="298.5" y2="372.56" stroke="#333" stroke-width="0.7200000000000001"/>
<line x1="312.3" y1="344" x2="312.3" y2="362.87" stroke="#333" stroke-width="0.8"/>
<line x1="311.1" y1="344" x2="313.5" y2="344" stroke="#333" stroke-width="0.7200000000000001"/>
<line x1="311.1" y1="362.87" x2="313.5" y2="362.87" stroke="#333" stroke-width="0.7200000000000001"/>
<line x1="332.3" y1="331.95" x2="332.3" y2="355.01" stroke="#333" stroke-width="0.8"/>
<line x1="331.1" y1="331.95" x2="333.5" y2="331.95" stroke="#333" stroke-width="0.7200000000000001"/>
<line x1="331.1" y1="355.01" x2="333.5" y2="355.01" stroke="#333" stroke-width="0.7200000000000001"/>
<line x1="347.3" y1="309.94" x2="347.3" y2="342.69" stroke="#333" stroke-width="0.8"/>
<line x1="346.1" y1="309.94" x2="348.5" y2="309.94" stroke="#333" stroke-width="0.7200000000000001"/>
<line x1="346.1" y1="342.69" x2="348.5" y2="342.69" stroke="#333" stroke-width="0.7200000000000001"/>
<line x1="367.3" y1="246.8" x2="367.3" y2="302.48" stroke="#333" stroke-width="0.8"/>
<line x1="366.1" y1="246.8" x2="368.5" y2="246.8" stroke="#333" stroke-width="0.7200000000000001"/>
<line x1="366.1" y1="302.48" x2="368.5" y2="302.48" stroke="#333" stroke-width="0.7200000000000001"/>
<polyline points="297.3,365.36 312.3,353.43 332.3,343.48 347.3,326.32 367.3,267.5" fill="none" stroke="#555" stroke-width="1.2" stroke-dasharray="2.4 2" stroke-linejoin="miter"/>
<rect x="295.05" y="363.11" width="4.5" height="4.5" fill="#e4e4e4" stroke="#666" stroke-width="0.9"/>
<line x1="295.05" y1="365.36" x2="299.55" y2="365.36" stroke="#666" stroke-width="0.7"/>
<line x1="297.3" y1="363.11" x2="297.3" y2="367.61" stroke="#666" stroke-width="0.7"/>
<rect x="310.05" y="351.18" width="4.5" height="4.5" fill="#e4e4e4" stroke="#666" stroke-width="0.9"/>
<line x1="310.05" y1="353.43" x2="314.55" y2="353.43" stroke="#666" stroke-width="0.7"/>
<line x1="312.3" y1="351.18" x2="312.3" y2="355.68" stroke="#666" stroke-width="0.7"/>
<rect x="330.05" y="341.23" width="4.5" height="4.5" fill="#e4e4e4" stroke="#666" stroke-width="0.9"/>
<line x1="330.05" y1="343.48" x2="334.55" y2="343.48" stroke="#666" stroke-width="0.7"/>
<line x1="332.3" y1="341.23" x2="332.3" y2="345.73" stroke="#666" stroke-width="0.7"/>
<rect x="345.05" y="324.07" width="4.5" height="4.5" fill="#e4e4e4" stroke="#666" stroke-width="0.9"/>
<line x1="345.05" y1="326.32" x2="349.55" y2="326.32" stroke="#666" stroke-width="0.7"/>
<line x1="347.3" y1="324.07" x2="347.3" y2="328.57" stroke="#666" stroke-width="0.7"/>
<rect x="365.05" y="265.25" width="4.5" height="4.5" fill="#e4e4e4" stroke="#666" stroke-width="0.9"/>
<line x1="365.05" y1="267.5" x2="369.55" y2="267.5" stroke="#666" stroke-width="0.7"/>
<line x1="367.3" y1="265.25" x2="367.3" y2="269.75" stroke="#666" stroke-width="0.7"/>
<line x1="297.3" y1="373.21" x2="297.3" y2="381.07" stroke="#444" stroke-width="0.8"/>
<line x1="296.1" y1="373.21" x2="298.5" y2="373.21" stroke="#444" stroke-width="0.7200000000000001"/>
<line x1="296.1" y1="381.07" x2="298.5" y2="381.07" stroke="#444" stroke-width="0.7200000000000001"/>
<line x1="312.3" y1="365.36" x2="312.3" y2="373.21" stroke="#444" stroke-width="0.8"/>
<line x1="311.1" y1="365.36" x2="313.5" y2="365.36" stroke="#444" stroke-width="0.7200000000000001"/>
<line x1="311.1" y1="373.21" x2="313.5" y2="373.21" stroke="#444" stroke-width="0.7200000000000001"/>
<line x1="332.3" y1="373.87" x2="332.3" y2="380.42" stroke="#444" stroke-width="0.8"/>
<line x1="331.1" y1="373.87" x2="333.5" y2="373.87" stroke="#444" stroke-width="0.7200000000000001"/>
<line x1="331.1" y1="380.42" x2="333.5" y2="380.42" stroke="#444" stroke-width="0.7200000000000001"/>
<line x1="347.3" y1="382.38" x2="347.3" y2="387.1" stroke="#444" stroke-width="0.8"/>
<line x1="346.1" y1="382.38" x2="348.5" y2="382.38" stroke="#444" stroke-width="0.7200000000000001"/>
<line x1="346.1" y1="387.1" x2="348.5" y2="387.1" stroke="#444" stroke-width="0.7200000000000001"/>
<line x1="367.3" y1="389.33" x2="367.3" y2="393.26" stroke="#444" stroke-width="0.8"/>
<line x1="366.1" y1="389.33" x2="368.5" y2="389.33" stroke="#444" stroke-width="0.7200000000000001"/>
<line x1="366.1" y1="393.26" x2="368.5" y2="393.26" stroke="#444" stroke-width="0.7200000000000001"/>
<line x1="382.3" y1="391.29" x2="382.3" y2="394.44" stroke="#444" stroke-width="0.8"/>
<line x1="381.1" y1="391.29" x2="383.5" y2="391.29" stroke="#444" stroke-width="0.7200000000000001"/>
<line x1="381.1" y1="394.44" x2="383.5" y2="394.44" stroke="#444" stroke-width="0.7200000000000001"/>
<line x1="402.3" y1="393" x2="402.3" y2="396.14" stroke="#444" stroke-width="0.8"/>
<line x1="401.1" y1="393" x2="403.5" y2="393" stroke="#444" stroke-width="0.7200000000000001"/>
<line x1="401.1" y1="396.14" x2="403.5" y2="396.14" stroke="#444" stroke-width="0.7200000000000001"/>
<line x1="417.3" y1="391.29" x2="417.3" y2="394.44" stroke="#444" stroke-width="0.8"/>
<line x1="416.1" y1="391.29" x2="418.5" y2="391.29" stroke="#444" stroke-width="0.7200000000000001"/>
<line x1="416.1" y1="394.44" x2="418.5" y2="394.44" stroke="#444" stroke-width="0.7200000000000001"/>
<line x1="442.3" y1="381.07" x2="442.3" y2="391.56" stroke="#444" stroke-width="0.8"/>
<line x1="441.1" y1="381.07" x2="443.5" y2="381.07" stroke="#444" stroke-width="0.7200000000000001"/>
<line x1="441.1" y1="391.56" x2="443.5" y2="391.56" stroke="#444" stroke-width="0.7200000000000001"/>
<polyline points="297.3,377.14 312.3,369.28 332.3,377.14 347.3,384.74 367.3,391.29 382.3,392.87 402.3,394.57 417.3,392.87 442.3,386.31" fill="none" stroke="#444" stroke-width="1.0" stroke-dasharray="2.6 2" stroke-linejoin="miter"/>
<polygon points="297.3,373.64 298.9,375.54 300.8,377.14 298.9,378.75 297.3,380.64 295.7,378.75 293.8,377.14 295.7,375.54" fill="#fff" stroke="#444" stroke-width="1.0"/>
<polygon points="312.3,365.78 313.9,367.68 315.8,369.28 313.9,370.88 312.3,372.78 310.7,370.88 308.8,369.28 310.7,367.68" fill="#fff" stroke="#444" stroke-width="1.0"/>
<polygon points="332.3,373.64 333.9,375.54 335.8,377.14 333.9,378.75 332.3,380.64 330.7,378.75 328.8,377.14 330.7,375.54" fill="#fff" stroke="#444" stroke-width="1.0"/>
<polygon points="347.3,381.24 348.9,383.14 350.8,384.74 348.9,386.34 347.3,388.24 345.7,386.34 343.8,384.74 345.7,383.14" fill="#fff" stroke="#444" stroke-width="1.0"/>
<polygon points="367.3,387.79 368.9,389.69 370.8,391.29 368.9,392.89 367.3,394.79 365.7,392.89 363.8,391.29 365.7,389.69" fill="#fff" stroke="#444" stroke-width="1.0"/>
<polygon points="382.3,389.37 383.9,391.26 385.8,392.87 383.9,394.47 382.3,396.37 380.7,394.47 378.8,392.87 380.7,391.26" fill="#fff" stroke="#444" stroke-width="1.0"/>
<polygon points="402.3,391.07 403.9,392.97 405.8,394.57 403.9,396.17 402.3,398.07 400.7,396.17 398.8,394.57 400.7,392.97" fill="#fff" stroke="#444" stroke-width="1.0"/>
<polygon points="417.3,389.37 418.9,391.26 420.8,392.87 418.9,394.47 417.3,396.37 415.7,394.47 413.8,392.87 415.7,391.26" fill="#fff" stroke="#444" stroke-width="1.0"/>
<polygon points="442.3,382.81 443.9,384.71 445.8,386.31 443.9,387.92 442.3,389.81 440.7,387.92 438.8,386.31 440.7,384.71" fill="#fff" stroke="#444" stroke-width="1.0"/>
<line x1="297.3" y1="373.61" x2="297.3" y2="380.16" stroke="#111" stroke-width="0.8"/>
<line x1="296.1" y1="373.61" x2="298.5" y2="373.61" stroke="#111" stroke-width="0.7200000000000001"/>
<line x1="296.1" y1="380.16" x2="298.5" y2="380.16" stroke="#111" stroke-width="0.7200000000000001"/>
<line x1="312.3" y1="372.82" x2="312.3" y2="380.68" stroke="#111" stroke-width="0.8"/>
<line x1="311.1" y1="372.82" x2="313.5" y2="372.82" stroke="#111" stroke-width="0.7200000000000001"/>
<line x1="311.1" y1="380.68" x2="313.5" y2="380.68" stroke="#111" stroke-width="0.7200000000000001"/>
<line x1="332.3" y1="359.2" x2="332.3" y2="370.99" stroke="#111" stroke-width="0.8"/>
<line x1="331.1" y1="359.2" x2="333.5" y2="359.2" stroke="#111" stroke-width="0.7200000000000001"/>
<line x1="331.1" y1="370.99" x2="333.5" y2="370.99" stroke="#111" stroke-width="0.7200000000000001"/>
<line x1="347.3" y1="348.98" x2="347.3" y2="362.08" stroke="#111" stroke-width="0.8"/>
<line x1="346.1" y1="348.98" x2="348.5" y2="348.98" stroke="#111" stroke-width="0.7200000000000001"/>
<line x1="346.1" y1="362.08" x2="348.5" y2="362.08" stroke="#111" stroke-width="0.7200000000000001"/>
<line x1="367.3" y1="321.6" x2="367.3" y2="342.56" stroke="#111" stroke-width="0.8"/>
<line x1="366.1" y1="321.6" x2="368.5" y2="321.6" stroke="#111" stroke-width="0.7200000000000001"/>
<line x1="366.1" y1="342.56" x2="368.5" y2="342.56" stroke="#111" stroke-width="0.7200000000000001"/>
<line x1="382.3" y1="311.64" x2="382.3" y2="333.91" stroke="#111" stroke-width="0.8"/>
<line x1="381.1" y1="311.64" x2="383.5" y2="311.64" stroke="#111" stroke-width="0.7200000000000001"/>
<line x1="381.1" y1="333.91" x2="383.5" y2="333.91" stroke="#111" stroke-width="0.7200000000000001"/>
<line x1="402.3" y1="300.9" x2="402.3" y2="324.48" stroke="#111" stroke-width="0.8"/>
<line x1="401.1" y1="300.9" x2="403.5" y2="300.9" stroke="#111" stroke-width="0.7200000000000001"/>
<line x1="401.1" y1="324.48" x2="403.5" y2="324.48" stroke="#111" stroke-width="0.7200000000000001"/>
<polyline points="297.3,376.88 312.3,376.75 332.3,365.09 347.3,355.53 367.3,332.08 382.3,322.78 402.3,312.69 417.3,286.75" fill="none" stroke="#111" stroke-width="1.05" stroke-linejoin="miter"/>
<circle cx="297.3" cy="376.88" r="2.5" fill="#111"/>
<circle cx="312.3" cy="376.75" r="2.5" fill="#111"/>
<circle cx="332.3" cy="365.09" r="2.5" fill="#111"/>
<circle cx="347.3" cy="355.53" r="2.5" fill="#111"/>
<circle cx="367.3" cy="332.08" r="2.5" fill="#111"/>
<circle cx="382.3" cy="322.78" r="2.5" fill="#111"/>
<circle cx="402.3" cy="312.69" r="2.5" fill="#111"/>
<circle cx="417.3" cy="286.75" r="2.5" fill="#111"/>
<line x1="297.3" y1="359.98" x2="297.3" y2="370.46" stroke="#111" stroke-width="0.8"/>
<line x1="296.1" y1="359.98" x2="298.5" y2="359.98" stroke="#111" stroke-width="0.7200000000000001"/>
<line x1="296.1" y1="370.46" x2="298.5" y2="370.46" stroke="#111" stroke-width="0.7200000000000001"/>
<line x1="312.3" y1="361.69" x2="312.3" y2="372.17" stroke="#111" stroke-width="0.8"/>
<line x1="311.1" y1="361.69" x2="313.5" y2="361.69" stroke="#111" stroke-width="0.7200000000000001"/>
<line x1="311.1" y1="372.17" x2="313.5" y2="372.17" stroke="#111" stroke-width="0.7200000000000001"/>
<line x1="332.3" y1="354.88" x2="332.3" y2="366.67" stroke="#111" stroke-width="0.8"/>
<line x1="331.1" y1="354.88" x2="333.5" y2="354.88" stroke="#111" stroke-width="0.7200000000000001"/>
<line x1="331.1" y1="366.67" x2="333.5" y2="366.67" stroke="#111" stroke-width="0.7200000000000001"/>
<line x1="347.3" y1="348.59" x2="347.3" y2="361.69" stroke="#111" stroke-width="0.8"/>
<line x1="346.1" y1="348.59" x2="348.5" y2="348.59" stroke="#111" stroke-width="0.7200000000000001"/>
<line x1="346.1" y1="361.69" x2="348.5" y2="361.69" stroke="#111" stroke-width="0.7200000000000001"/>
<line x1="367.3" y1="313.35" x2="367.3" y2="335.62" stroke="#111" stroke-width="0.8"/>
<line x1="366.1" y1="313.35" x2="368.5" y2="313.35" stroke="#111" stroke-width="0.7200000000000001"/>
<line x1="366.1" y1="335.62" x2="368.5" y2="335.62" stroke="#111" stroke-width="0.7200000000000001"/>
<line x1="382.3" y1="300.12" x2="382.3" y2="323.7" stroke="#111" stroke-width="0.8"/>
<line x1="381.1" y1="300.12" x2="383.5" y2="300.12" stroke="#111" stroke-width="0.7200000000000001"/>
<line x1="381.1" y1="323.7" x2="383.5" y2="323.7" stroke="#111" stroke-width="0.7200000000000001"/>
<line x1="402.3" y1="287.8" x2="402.3" y2="312.69" stroke="#111" stroke-width="0.8"/>
<line x1="401.1" y1="287.8" x2="403.5" y2="287.8" stroke="#111" stroke-width="0.7200000000000001"/>
<line x1="401.1" y1="312.69" x2="403.5" y2="312.69" stroke="#111" stroke-width="0.7200000000000001"/>
<line x1="417.3" y1="273" x2="417.3" y2="303.78" stroke="#111" stroke-width="0.8"/>
<line x1="416.1" y1="273" x2="418.5" y2="273" stroke="#111" stroke-width="0.7200000000000001"/>
<line x1="416.1" y1="303.78" x2="418.5" y2="303.78" stroke="#111" stroke-width="0.7200000000000001"/>
<polyline points="297.3,365.22 312.3,366.93 332.3,360.77 347.3,355.14 367.3,324.48 382.3,311.91 402.3,300.25 417.3,286.49" fill="none" stroke="#111" stroke-width="1.05" stroke-linejoin="miter"/>
<rect x="294.9" y="362.82" width="4.8" height="4.8" fill="#111"/>
<rect x="309.9" y="364.53" width="4.8" height="4.8" fill="#111"/>
<rect x="329.9" y="358.37" width="4.8" height="4.8" fill="#111"/>
<rect x="344.9" y="352.74" width="4.8" height="4.8" fill="#111"/>
<rect x="364.9" y="322.08" width="4.8" height="4.8" fill="#111"/>
<rect x="379.9" y="309.51" width="4.8" height="4.8" fill="#111"/>
<rect x="399.9" y="297.85" width="4.8" height="4.8" fill="#111"/>
<rect x="414.9" y="284.09" width="4.8" height="4.8" fill="#111"/>
<polygon points="297.3,396 300.6,403.3 297.3,401.9 294,403.3" fill="#000"/>
<polygon points="317.3,396 320.6,403.3 317.3,401.9 314,403.3" fill="#000"/>
<polygon points="337.3,396 340.6,403.3 337.3,401.9 334,403.3" fill="#000"/>
<polygon points="357.3,396 360.6,403.3 357.3,401.9 354,403.3" fill="#000"/>
<polygon points="377.3,396 380.6,403.3 377.3,401.9 374,403.3" fill="#000"/>
<polygon points="397.3,396 400.6,403.3 397.3,401.9 394,403.3" fill="#000"/>
<polygon points="297.3,405.4 300.6,412.9 297.3,411.5 294,412.9" fill="#000"/>
<polygon points="307.3,405.4 310.6,412.9 307.3,411.5 304,412.9" fill="#000"/>
<polygon points="317.3,405.4 320.6,412.9 317.3,411.5 314,412.9" fill="#000"/>
<polygon points="332.3,405.4 335.6,412.9 332.3,411.5 329,412.9" fill="#000"/>
<polygon points="342.3,405.4 345.6,412.9 342.3,411.5 339,412.9" fill="#000"/>
<polygon points="352.3,405.4 355.6,412.9 352.3,411.5 349,412.9" fill="#000"/>
<polygon points="367.3,405.4 370.6,412.9 367.3,411.5 364,412.9" fill="#000"/>
<polygon points="377.3,405.4 380.6,412.9 377.3,411.5 374,412.9" fill="#000"/>
<polygon points="387.3,405.4 390.6,412.9 387.3,411.5 384,412.9" fill="#000"/>
<line x1="373" y1="238.8" x2="391" y2="238.8" stroke="#555" stroke-width="1.1" stroke-dasharray="2.4 2"/>
<rect x="380.3" y="236.6" width="4.4" height="4.4" fill="#e4e4e4" stroke="#666" stroke-width="0.9"/>
<line x1="380.3" y1="238.8" x2="384.7" y2="238.8" stroke="#666" stroke-width="0.7"/>
<line x1="382.5" y1="236.6" x2="382.5" y2="241" stroke="#666" stroke-width="0.7"/>
<text x="393.5" y="241.6" font-size="8" text-anchor="start" fill="#000">CONTROL</text>
<line x1="373" y1="247.9" x2="391" y2="247.9" stroke="#111" stroke-width="0.9"/>
<rect x="380.1" y="245.5" width="4.8" height="4.8" fill="#111"/>
<text x="393.5" y="250.7" font-size="8.2" text-anchor="start" fill="#000">DMDA-PatA, 1.60 mg/kg (Q4Dx6)</text>
<line x1="373" y1="256.9" x2="391" y2="256.9" stroke="#111" stroke-width="0.9"/>
<circle cx="382.5" cy="256.9" r="2.4" fill="#111"/>
<text x="393.5" y="259.7" font-size="8.2" text-anchor="start" fill="#000">DMDA-PatA, 1.25 mg/kg (MWFx3)</text>
<line x1="373" y1="266" x2="392.5" y2="266" stroke="#444" stroke-width="1.0" stroke-dasharray="2.6 2"/>
<polygon points="382.5,262.5 384.1,264.4 386,266 384.1,267.6 382.5,269.5 380.9,267.6 379,266 380.9,264.4" fill="#fff" stroke="#444" stroke-width="1.0"/>
<text x="394.3" y="268.8" font-size="8" text-anchor="start" fill="#000">Paclitaxel, 20 mg/kg</text>
</g>
<g id="panelD">
<text x="-1.2" y="452" font-size="12.2" font-weight="bold" text-anchor="start" fill="#000">D</text>
<text x="126.5" y="449" font-size="9.3" text-anchor="middle" fill="#000">NALM-6 leukemia</text>
<line x1="33.2" y1="615.2" x2="216.74" y2="615.2" stroke="#222" stroke-width="0.9"/>
<line x1="33.2" y1="615.6" x2="33.2" y2="460.2" stroke="#222" stroke-width="0.9"/>
<line x1="33.2" y1="615.2" x2="33.2" y2="612" stroke="#222" stroke-width="0.6"/>
<line x1="37.57" y1="615.2" x2="37.57" y2="613.5" stroke="#222" stroke-width="0.6"/>
<line x1="41.94" y1="615.2" x2="41.94" y2="613.5" stroke="#222" stroke-width="0.6"/>
<line x1="46.31" y1="615.2" x2="46.31" y2="613.5" stroke="#222" stroke-width="0.6"/>
<line x1="50.68" y1="615.2" x2="50.68" y2="613.5" stroke="#222" stroke-width="0.6"/>
<line x1="55.05" y1="615.2" x2="55.05" y2="613.5" stroke="#222" stroke-width="0.6"/>
<line x1="59.42" y1="615.2" x2="59.42" y2="613.5" stroke="#222" stroke-width="0.6"/>
<line x1="63.79" y1="615.2" x2="63.79" y2="612" stroke="#222" stroke-width="0.6"/>
<line x1="68.16" y1="615.2" x2="68.16" y2="613.5" stroke="#222" stroke-width="0.6"/>
<line x1="72.53" y1="615.2" x2="72.53" y2="613.5" stroke="#222" stroke-width="0.6"/>
<line x1="76.9" y1="615.2" x2="76.9" y2="613.5" stroke="#222" stroke-width="0.6"/>
<line x1="81.27" y1="615.2" x2="81.27" y2="613.5" stroke="#222" stroke-width="0.6"/>
<line x1="85.64" y1="615.2" x2="85.64" y2="613.5" stroke="#222" stroke-width="0.6"/>
<line x1="90.01" y1="615.2" x2="90.01" y2="613.5" stroke="#222" stroke-width="0.6"/>
<line x1="94.38" y1="615.2" x2="94.38" y2="612" stroke="#222" stroke-width="0.6"/>
<line x1="98.75" y1="615.2" x2="98.75" y2="613.5" stroke="#222" stroke-width="0.6"/>
<line x1="103.12" y1="615.2" x2="103.12" y2="613.5" stroke="#222" stroke-width="0.6"/>
<line x1="107.49" y1="615.2" x2="107.49" y2="613.5" stroke="#222" stroke-width="0.6"/>
<line x1="111.86" y1="615.2" x2="111.86" y2="613.5" stroke="#222" stroke-width="0.6"/>
<line x1="116.23" y1="615.2" x2="116.23" y2="613.5" stroke="#222" stroke-width="0.6"/>
<line x1="120.6" y1="615.2" x2="120.6" y2="613.5" stroke="#222" stroke-width="0.6"/>
<line x1="124.97" y1="615.2" x2="124.97" y2="612" stroke="#222" stroke-width="0.6"/>
<line x1="129.34" y1="615.2" x2="129.34" y2="613.5" stroke="#222" stroke-width="0.6"/>
<line x1="133.71" y1="615.2" x2="133.71" y2="613.5" stroke="#222" stroke-width="0.6"/>
<line x1="138.08" y1="615.2" x2="138.08" y2="613.5" stroke="#222" stroke-width="0.6"/>
<line x1="142.45" y1="615.2" x2="142.45" y2="613.5" stroke="#222" stroke-width="0.6"/>
<line x1="146.82" y1="615.2" x2="146.82" y2="613.5" stroke="#222" stroke-width="0.6"/>
<line x1="151.19" y1="615.2" x2="151.19" y2="613.5" stroke="#222" stroke-width="0.6"/>
<line x1="155.56" y1="615.2" x2="155.56" y2="612" stroke="#222" stroke-width="0.6"/>
<line x1="159.93" y1="615.2" x2="159.93" y2="613.5" stroke="#222" stroke-width="0.6"/>
<line x1="164.3" y1="615.2" x2="164.3" y2="613.5" stroke="#222" stroke-width="0.6"/>
<line x1="168.67" y1="615.2" x2="168.67" y2="613.5" stroke="#222" stroke-width="0.6"/>
<line x1="173.04" y1="615.2" x2="173.04" y2="613.5" stroke="#222" stroke-width="0.6"/>
<line x1="177.41" y1="615.2" x2="177.41" y2="613.5" stroke="#222" stroke-width="0.6"/>
<line x1="181.78" y1="615.2" x2="181.78" y2="613.5" stroke="#222" stroke-width="0.6"/>
<line x1="186.15" y1="615.2" x2="186.15" y2="612" stroke="#222" stroke-width="0.6"/>
<line x1="190.52" y1="615.2" x2="190.52" y2="613.5" stroke="#222" stroke-width="0.6"/>
<line x1="194.89" y1="615.2" x2="194.89" y2="613.5" stroke="#222" stroke-width="0.6"/>
<line x1="199.26" y1="615.2" x2="199.26" y2="613.5" stroke="#222" stroke-width="0.6"/>
<line x1="203.63" y1="615.2" x2="203.63" y2="613.5" stroke="#222" stroke-width="0.6"/>
<line x1="208" y1="615.2" x2="208" y2="613.5" stroke="#222" stroke-width="0.6"/>
<line x1="212.37" y1="615.2" x2="212.37" y2="613.5" stroke="#222" stroke-width="0.6"/>
<line x1="216.74" y1="615.2" x2="216.74" y2="612" stroke="#222" stroke-width="0.6"/>
<line x1="33.2" y1="615.2" x2="36.4" y2="615.2" stroke="#222" stroke-width="0.6"/>
<line x1="33.2" y1="599.7" x2="36.4" y2="599.7" stroke="#222" stroke-width="0.6"/>
<line x1="33.2" y1="584.2" x2="36.4" y2="584.2" stroke="#222" stroke-width="0.6"/>
<line x1="33.2" y1="568.7" x2="36.4" y2="568.7" stroke="#222" stroke-width="0.6"/>
<line x1="33.2" y1="553.2" x2="36.4" y2="553.2" stroke="#222" stroke-width="0.6"/>
<line x1="33.2" y1="537.7" x2="36.4" y2="537.7" stroke="#222" stroke-width="0.6"/>
<line x1="33.2" y1="522.2" x2="36.4" y2="522.2" stroke="#222" stroke-width="0.6"/>
<line x1="33.2" y1="506.7" x2="36.4" y2="506.7" stroke="#222" stroke-width="0.6"/>
<line x1="33.2" y1="491.2" x2="36.4" y2="491.2" stroke="#222" stroke-width="0.6"/>
<line x1="33.2" y1="475.7" x2="36.4" y2="475.7" stroke="#222" stroke-width="0.6"/>
<line x1="33.2" y1="460.2" x2="36.4" y2="460.2" stroke="#222" stroke-width="0.6"/>
<text x="33.2" y="624.7" font-size="6.8" text-anchor="middle" fill="#000" class="tk">0</text>
<text x="63.79" y="624.7" font-size="6.8" text-anchor="middle" fill="#000" class="tk">7</text>
<text x="94.38" y="624.7" font-size="6.8" text-anchor="middle" fill="#000" class="tk">14</text>
<text x="124.97" y="624.7" font-size="6.8" text-anchor="middle" fill="#000" class="tk">21</text>
<text x="155.56" y="624.7" font-size="6.8" text-anchor="middle" fill="#000" class="tk">28</text>
<text x="186.15" y="624.7" font-size="6.8" text-anchor="middle" fill="#000" class="tk">35</text>
<text x="216.74" y="624.7" font-size="6.8" text-anchor="middle" fill="#000" class="tk">42</text>
<text x="28" y="618.1" font-size="6.8" text-anchor="end" fill="#000" class="tk">0</text>
<text x="28" y="602.6" font-size="6.8" text-anchor="end" fill="#000" class="tk">1</text>
<text x="28" y="587.1" font-size="6.8" text-anchor="end" fill="#000" class="tk">2</text>
<text x="28" y="571.6" font-size="6.8" text-anchor="end" fill="#000" class="tk">3</text>
<text x="28" y="556.1" font-size="6.8" text-anchor="end" fill="#000" class="tk">4</text>
<text x="28" y="540.6" font-size="6.8" text-anchor="end" fill="#000" class="tk">5</text>
<text x="28" y="525.1" font-size="6.8" text-anchor="end" fill="#000" class="tk">6</text>
<text x="28" y="509.6" font-size="6.8" text-anchor="end" fill="#000" class="tk">7</text>
<text x="28" y="494.1" font-size="6.8" text-anchor="end" fill="#000" class="tk">8</text>
<text x="28" y="478.6" font-size="6.8" text-anchor="end" fill="#000" class="tk">9</text>
<text x="28" y="463.1" font-size="6.8" text-anchor="end" fill="#000" class="tk">10</text>
<text x="17.8" y="535.3" font-size="8.4" font-weight="bold" text-anchor="middle" fill="#000" transform="rotate(-90 17.8 535.3)">Number of surviving animals</text>
<text x="125.7" y="634.4" font-size="9.0" font-weight="bold" text-anchor="middle" fill="#000">Day</text>
<polyline points="33.2,460.2 129.34,460.2 129.34,475.7 133.71,475.7 133.71,522.2 138.08,522.2 138.08,615.2" fill="none" stroke="#000" stroke-width="1.45" stroke-dasharray="2.8 1.1 1 1.1" stroke-linejoin="miter"/>
<polyline points="33.2,460.2 155.56,460.2 155.56,475.7 168.67,475.7 168.67,506.7 173.04,506.7 173.04,537.7 177.41,537.7 177.41,553.2 186.15,553.2 186.15,584.2 203.63,584.2" fill="none" stroke="#000" stroke-width="1.45" stroke-linejoin="miter"/>
<line x1="33.2" y1="460.2" x2="203.63" y2="460.2" stroke="#000" stroke-width="1.75" stroke-dasharray="5.2 2.4"/>
<rect x="37" y="556.5" width="111" height="28.5" fill="#fff"/>
<line x1="38" y1="562" x2="55" y2="562" stroke="#000" stroke-width="1.45"/>
<text x="57.2" y="564.8" font-size="8.2" text-anchor="start" fill="#000">DMDA-PatA, 0.88 mg/kg</text>
<line x1="38" y1="570.3" x2="53" y2="570.3" stroke="#000" stroke-width="1.45" stroke-dasharray="2.8 1.1 1 1.1"/>
<text x="57.2" y="573.2" font-size="8.2" text-anchor="start" fill="#000">CONTROL</text>
<line x1="41" y1="578.8" x2="55" y2="578.8" stroke="#000" stroke-width="1.75" stroke-dasharray="5.2 2.4"/>
<text x="57.2" y="581.6" font-size="8.2" text-anchor="start" fill="#000">Vincristine, 1.2 mg/kg</text>
</g>
</svg>
</body></html>
